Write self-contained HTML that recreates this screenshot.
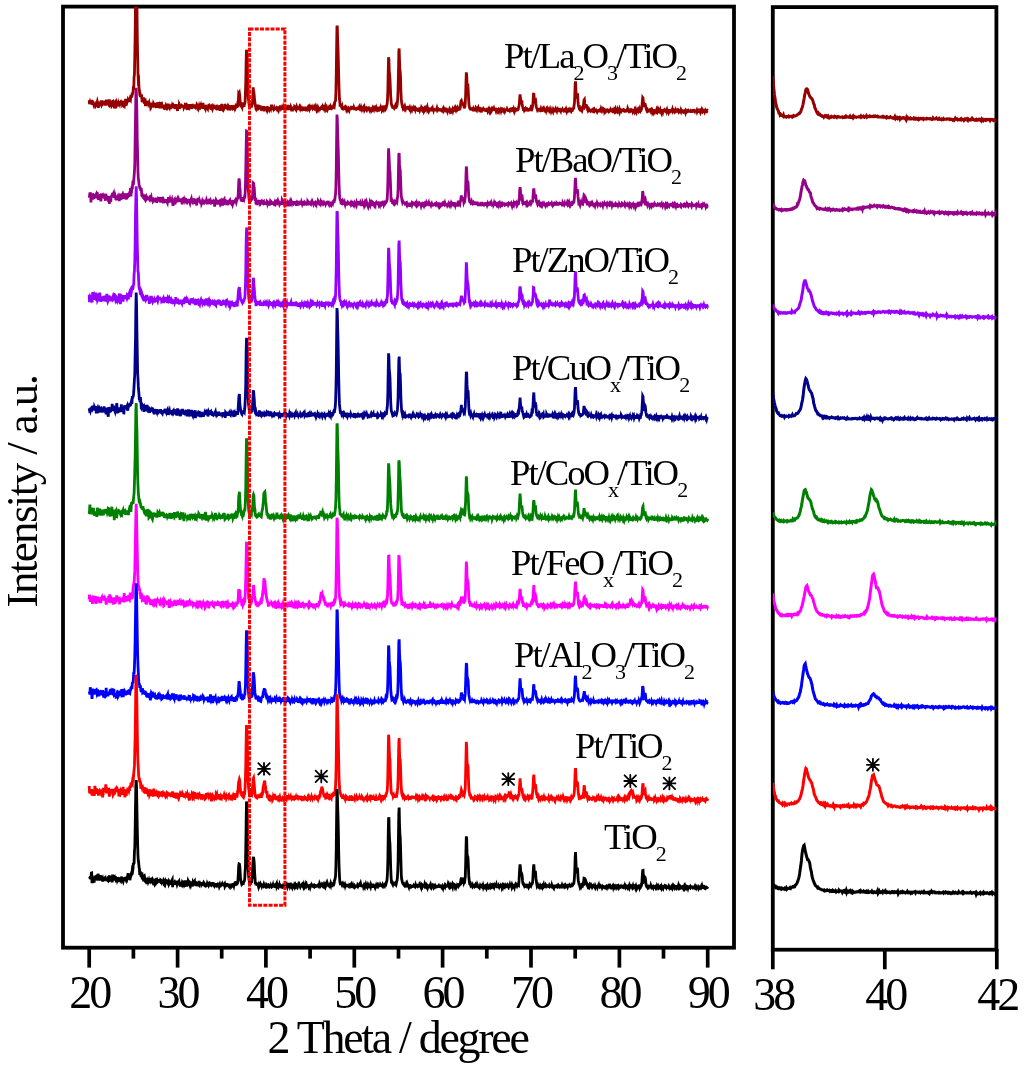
<!DOCTYPE html>
<html><head><meta charset="utf-8"><title>XRD patterns</title>
<style>
html,body{margin:0;padding:0;background:#fff;}
svg{display:block;}
</style></head>
<body>
<svg width="1024" height="1069" viewBox="0 0 1024 1069" font-family="'Liberation Serif', 'Times New Roman', serif" font-size="46">
<rect width="1024" height="1069" fill="#fff"/>
<defs><clipPath id="cl"><rect x="63" y="6.6" width="671" height="941.1"/></clipPath>
<clipPath id="cr"><rect x="772.8" y="7.1" width="223.6" height="942.6"/></clipPath></defs>
<rect x="63" y="6.6" width="671" height="941.1" fill="none" stroke="#000" stroke-width="3.8"/>
<rect x="772.8" y="7.1" width="223.6" height="942.6" fill="none" stroke="#000" stroke-width="3.8"/>
<g clip-path="url(#cl)">
<path transform="translate(89.200,0) scale(0.35344,0.1)" d="M0,1001l1 40 1-13 1 14 1-22 1 2 1-13 1-10 1 31 1 17 1-38 1 13 1 13 1 12 1-10 1-10 1 31 1-17 1 18 1-6 1-8 1-32 1 17 1-14 1 13 1 9 1 42 1-48 1-1 1 5 1 21 1-37 1 18 1 6 1-41 1 40 1-10 1-4 1 13 1-4 1-7 1-15 1 35 1-26 1-18 1 50 1-32 1 0 1 12 1-40 1 22 1 33 1-18 1-7 1 7 1-14 1 15 1-41 1 21 1 34 1-4 1-1 1-2 1 13 1-7 1 2 1-36 1-2 1 44 1-11 1-16 1 55 1-29 1 4 1-39 1-5 1 32 1 6 1-15 1-24 1 27 1-3 1-10 1 13 1 4 1 19 1-42 1 13 1-14 1-4 1 12 1-22 1 32 1-30 1 34 1-5 1 18 1-25 1 34 1 2 1-39 1 2 1 3 1-44 1 56 1 0 1-12 1-13 1-31 1 24 1-17 1 7 1-1 1 8 1 9 1-27 1-12 1 8 1-33 1 20 1-15 1-7 1-27 1 9 1-12 1-59 1 39 1-134 1-23 1-189 1-201 1-306 1-20 1 0 1 0 1 0 1 318 1 207 1 178 1 76 1-7 1 84 1 12 1 42 1-1 1 33 1-26 1 22 1-25 1 46 1 33 1-21 1 4 1 5 1-37 1 44 1 17 1-17 1-33 1 65 1 0 1-21 1-20 1 21 1 13 1 0 1 10 1-37 1 21 1-8 1 24 1 2 1-16 1 12 1 25 1-7 1-42 1 30 1-8 1-4 1 14 1 2 1-24 1 7 1 12 1 1 1-26 1 21 1-15 1 25 1 18 1-42 1-1 1 12 1-1 1-5 1-7 1 1 1 45 1-54 1 58 1-49 1 2 1 37 1-55 1 11 1 51 1-10 1-20 1 18 1-12 1-12 1 27 1 21 1-35 1 16 1-4 1-13 1 8 1 9 1-7 1 6 1-13 1-25 1 26 1-3 1 14 1 6 1-17 1 3 1-17 1 21 1 4 1-4 1-29 1 39 1-26 1 6 1 8 1 15 1-19 1 6 1-7 1-2 1-1 1-17 1 18 1 27 1-22 1 25 1 20 1-49 1-16 1 32 1 12 1-47 1 7 1 12 1 4 1 5 1-4 1-2 1-9 1 3 1 17 1-22 1 19 1-22 1 25 1-7 1 3 1 13 1-42 1 1 1 13 1-13 1 32 1 22 1-35 1 6 1 4 1 13 1 2 1-9 1-36 1 19 1 11 1-30 1 31 1-2 1 18 1-49 1 11 1 21 1-16 1 14 1-1 1-3 1 3 1 3 1-28 1 19 1 2 1 8 1 1 1-27 1 5 1 26 1-4 1 12 1-9 1-14 1 13 1 3 1-12 1-9 1 23 1-16 1 10 1-28 1 37 1-19 1-37 1 60 1-19 1 3 1-13 1 19 1 7 1-37 1 13 1 4 1 23 1-24 1 20 1 5 1-32 1 25 1-29 1-2 1 11 1 4 1-18 1 25 1 13 1-1 1-20 1-5 1 13 1 14 1-10 1 1 1-7 1 15 1-21 1 1 1 11 1 4 1 3 1-18 1 14 1-30 1 9 1 36 1-10 1-14 1 20 1 0 1-26 1-1 1 11 1 33 1-21 1 1 1-25 1-24 1 30 1 14 1 9 1-4 1 10 1-6 1-25 1 21 1-36 1-1 1 8 1 16 1-1 1 4 1-6 1 10 1 5 1-3 1-22 1 6 1-4 1-10 1 49 1-10 1-26 1 13 1-3 1-25 1 19 1 5 1 7 1-6 1-12 1 36 1-35 1 1 1 4 1 15 1-8 1-5 1-37 1 42 1-30 1 22 1-28 1 4 1-41 1-71 1 5 1-8 1 23 1 57 1 27 1 19 1 6 1 1 1 7 1-48 1 47 1-9 1-5 1-13 1 25 1-32 1 0 1-13 1-95 1-101 1-221 1-108 1 14 1 88 1 135 1 117 1 126 1 22 1 34 1 26 1-1 1-2 1-15 1 30 1-14 1 18 1-20 1-10 1-28 1-67 1-78 1 39 1 14 1 34 1 41 1 25 1 27 1 18 1-8 1 6 1-1 1 18 1-7 1 13 1-45 1 16 1 17 1-4 1-22 1 19 1-17 1 30 1 5 1-6 1 9 1-29 1 10 1 16 1 12 1-23 1-19 1 52 1-41 1 14 1-17 1 22 1-17 1 14 1 8 1-32 1 9 1 3 1 14 1-8 1 3 1-13 1 15 1-11 1 20 1-23 1 10 1-18 1-18 1 35 1 2 1-4 1-1 1 8 1-12 1 16 1-13 1 8 1-4 1 0 1 7 1 1 1-7 1 7 1-13 1 2 1 10 1-4 1 11 1-14 1-1 1 18 1-21 1 4 1-6 1 12 1-5 1 16 1-34 1 26 1-12 1 15 1-22 1 9 1-1 1 7 1-7 1-24 1 14 1 7 1 7 1-1 1 5 1-2 1-36 1 16 1 13 1 20 1-26 1-3 1 5 1 1 1 19 1-23 1 8 1 34 1-44 1 28 1 1 1-7 1-26 1 20 1-2 1-19 1 3 1 19 1 6 1 5 1-18 1-12 1 11 1-2 1-9 1 32 1-20 1 0 1 0 1-10 1 9 1 9 1-9 1 15 1 11 1-29 1 1 1 4 1 14 1-3 1-7 1 4 1 18 1-21 1-7 1 0 1 10 1-3 1-12 1 40 1-28 1-5 1-5 1-5 1 15 1-5 1-2 1-7 1 19 1-7 1-14 1-3 1 14 1 0 1-5 1-3 1 8 1-9 1 10 1 0 1-6 1 3 1-8 1 22 1 0 1-2 1-12 1 13 1-13 1 5 1-8 1 14 1-10 1 8 1-18 1 16 1 3 1-18 1 13 1-4 1-4 1 19 1-12 1 2 1-12 1 11 1 2 1-9 1 8 1-19 1 19 1-6 1-13 1 13 1 14 1-8 1-9 1 12 1 10 1-8 1-12 1 16 1-14 1-8 1 6 1-3 1-7 1 18 1 0 1 1 1-17 1 3 1 14 1-15 1-1 1-10 1 12 1 2 1-27 1-30 1-6 1-6 1-79 1-189 1-247 1-234 1 11 1 136 1 85 1 128 1 153 1 127 1 91 1 27 1 51 1-20 1 4 1 8 1 11 1-7 1 32 1-27 1 19 1 5 1-1 1-5 1 10 1-24 1-3 1 12 1-24 1 28 1 14 1-8 1 3 1-8 1-3 1 19 1-5 1 6 1-26 1 10 1 2 1-6 1 6 1-1 1-6 1-1 1-6 1-12 1 16 1 1 1 15 1-16 1 10 1-1 1 1 1 1 1-2 1 0 1 5 1-3 1-20 1 17 1 1 1-2 1-7 1 4 1 4 1-13 1 8 1 5 1-16 1 28 1-19 1 10 1-13 1 34 1-10 1-18 1-8 1 8 1-8 1 23 1-7 1 1 1-3 1-4 1 14 1 5 1-10 1 2 1-4 1-4 1-8 1-12 1 26 1 7 1-25 1 21 1-1 1-17 1 19 1 7 1-8 1-8 1-8 1 9 1-7 1 8 1-21 1 14 1 4 1-9 1 5 1 7 1-11 1 12 1 4 1-26 1 14 1 9 1 24 1-25 1-4 1 6 1 3 1-3 1-10 1 20 1-20 1-9 1-17 1 45 1-5 1-8 1-7 1 9 1-15 1-3 1 17 1-5 1-13 1 16 1-6 1-17 1-10 1-19 1-39 1-97 1-184 1-144 1 28 1 113 1 29 1 50 1 79 1 91 1 39 1 41 1 7 1 20 1-12 1 29 1-13 1-19 1 24 1 5 1-6 1-5 1-11 1 13 1 12 1-18 1-7 1-7 1-35 1-38 1-98 1-155 1-212 1-31 1 123 1 89 1 22 1 58 1 147 1 65 1 37 1 20 1 19 1-1 1 15 1-7 1 8 1 7 1-11 1-10 1 14 1 8 1-14 1 15 1-17 1 23 1-22 1-1 1 0 1 12 1 2 1 1 1 6 1-10 1 15 1-17 1 15 1-12 1 3 1 8 1-13 1 6 1 5 1 2 1-10 1 24 1-30 1 5 1-1 1 13 1-11 1 6 1 6 1 10 1-26 1 29 1-32 1 9 1 31 1-36 1 11 1 10 1-11 1-16 1 16 1 3 1-17 1 7 1 9 1-5 1 12 1-4 1 10 1-13 1-6 1 13 1-7 1-10 1 7 1-7 1-16 1 12 1-9 1 23 1-7 1 10 1-18 1 11 1 12 1-8 1-5 1-1 1 0 1 6 1-5 1 8 1-1 1-8 1 26 1-27 1 11 1-16 1 13 1 11 1-22 1 16 1 0 1 0 1 1 1-4 1-13 1 14 1-7 1-2 1 7 1-1 1-12 1 18 1-1 1-1 1 0 1 3 1-16 1 13 1 0 1 5 1-12 1-6 1 11 1-13 1 7 1-5 1 4 1 9 1-8 1-1 1 0 1 2 1 12 1 8 1-24 1 18 1-16 1 13 1-4 1 7 1-15 1 6 1 11 1 7 1-6 1-7 1-18 1 16 1-8 1 13 1-14 1 0 1 3 1-6 1-7 1 16 1-3 1 7 1-14 1 9 1-7 1 0 1-8 1 13 1-4 1-5 1 4 1 3 1 1 1-2 1-20 1-35 1-25 1-5 1 12 1 18 1-2 1 11 1 2 1 3 1 5 1 27 1-9 1-7 1-41 1-68 1-127 1-107 1 30 1 78 1 56 1 3 1-7 1 65 1 73 1 37 1 14 1 17 1-15 1 30 1-12 1-5 1 3 1 2 1-3 1 5 1-5 1 20 1-17 1 7 1-3 1-2 1 7 1 1 1-17 1 7 1 6 1-18 1-2 1 31 1-19 1-10 1 12 1 1 1 10 1-3 1-6 1 8 1-6 1-3 1 7 1 6 1-7 1 0 1-2 1-8 1 6 1-2 1 6 1 2 1-4 1 2 1-2 1 20 1-31 1 14 1 0 1-4 1 15 1-7 1-4 1-9 1 11 1 12 1-9 1 9 1-13 1-4 1-6 1 14 1-6 1-9 1 6 1-1 1-1 1-9 1 12 1 0 1-3 1 2 1 2 1 11 1-11 1 5 1-4 1-4 1-14 1 25 1-6 1 10 1-14 1-14 1 22 1 1 1-7 1 11 1-12 1 5 1 5 1-4 1-12 1 2 1 10 1-4 1 12 1-4 1-20 1 22 1-7 1-1 1-3 1 0 1-8 1 9 1 0 1 5 1-1 1 2 1 0 1-5 1 6 1-8 1 2 1-5 1-6 1 2 1-2 1 14 1-2 1-13 1 23 1-16 1 11 1-16 1 21 1-8 1 0 1-14 1 2 1 11 1 0 1-8 1 0 1 1 1-6 1-19 1-11 1-23 1-53 1-40 1 31 1 26 1 25 1-2 1-20 1 36 1 23 1 16 1 15 1-1 1 8 1-10 1-3 1 7 1-7 1 8 1 16 1-16 1 5 1 1 1-8 1 4 1 4 1 1 1-1 1-6 1-3 1-1 1-6 1 25 1-22 1 7 1 2 1-8 1-20 1-11 1-50 1-70 1-8 1 46 1 31 1 22 1-20 1-4 1 35 1 25 1 17 1 4 1 12 1-6 1 2 1-11 1 23 1-26 1 20 1-3 1-2 1 5 1-11 1 12 1 4 1 0 1-8 1 1 1-8 1 9 1 0 1-10 1 9 1 10 1-2 1 4 1-18 1 13 1-13 1 6 1-9 1 9 1 4 1 2 1 1 1-9 1 11 1-7 1-11 1 22 1-12 1 13 1-10 1 0 1 4 1-3 1 9 1-16 1 7 1-5 1 5 1 19 1-14 1-8 1-10 1 9 1 2 1 8 1-14 1-5 1 10 1 0 1 14 1-19 1-12 1 16 1-4 1 5 1 8 1-17 1 22 1-10 1-5 1-7 1 7 1 4 1 5 1 4 1-3 1-6 1 6 1 2 1-9 1 14 1-14 1 11 1-12 1 3 1-18 1 27 1-2 1-14 1 3 1 4 1-7 1 8 1 5 1 4 1-14 1-4 1 7 1 1 1-12 1-4 1-2 1-3 1-32 1-23 1-83 1-111 1-19 1 77 1 70 1 27 1-29 1-9 1-1 1 73 1 25 1 20 1 9 1 16 1 4 1-9 1 12 1 10 1-30 1 12 1-7 1 12 1-12 1-9 1-5 1-38 1-32 1-5 1 42 1 30 1-5 1-5 1-14 1 15 1 5 1 12 1 19 1-1 1 14 1-5 1-9 1 7 1 3 1 4 1-6 1-11 1 18 1-3 1-2 1 7 1 2 1-20 1-2 1 7 1 7 1-7 1 10 1-6 1 1 1 0 1-2 1 8 1 1 1 8 1-8 1-2 1 0 1-2 1 1 1-2 1 19 1-18 1 3 1-8 1-12 1 10 1 7 1-13 1 22 1-13 1 7 1 12 1-31 1 3 1 21 1-8 1 3 1-3 1 10 1-5 1-4 1-3 1-3 1 4 1-13 1 17 1-2 1 10 1-4 1-15 1 16 1-12 1 8 1 1 1-4 1 4 1 3 1-13 1 4 1 6 1 3 1-11 1 8 1-11 1-8 1 19 1 7 1-5 1-2 1 2 1 4 1-18 1 9 1-6 1 6 1 1 1 9 1-22 1 9 1-9 1 3 1 1 1 10 1-6 1-16 1 29 1-15 1-3 1 5 1 4 1-7 1 2 1 2 1 6 1 2 1-1 1-6 1 3 1-5 1 11 1-27 1 8 1 1 1 13 1-4 1 2 1-2 1 9 1-3 1-26 1 29 1-15 1 2 1 9 1-14 1 19 1-7 1-4 1 1 1 9 1-14 1 8 1-9 1 16 1-15 1 15 1-10 1-5 1 22 1-16 1 6 1-8 1-10 1 16 1 3 1-24 1 5 1-3 1 5 1-10 1-26 1-46 1-38 1 5 1 42 1 27 1 20 1-22 1-7 1 1 1 18 1 11 1 16 1 13 1 8 1-6 1 12 1-3 1-8 1-2 1-2 1 7 1-4 1 1 1-6 1-3 1 16 1-6 1-4 1 16 1-11 1 2 1 12 1-12 1-1 1 5 1 8 1-10 1-1 1 5 1-2 1-10 1 14 1-5 1-10 1 18 1-5 1-12 1 8 1 0 1-5 1-7 1 19 1-3 1-2 1 12 1-13 1-1 1-2 1 12 1-14 1-2 1 6 1-1 1-7 1 6 1 5 1-4 1 3 1-4 1-8 1 17 1-8 1-6 1 3 1 2 1 15 1-8 1 2 1-24 1 18 1 1 1 2 1-1 1-7 1 1 1-11 1 15 1-7 1 4 1-5 1 8 1 6 1-9 1 1 1 12 1-16 1 8 1-3 1 4 1 0 1-9 1 4 1 6 1-12 1 3 1 4 1 2 1 5 1-3 1-11 1 11 1-10 1 1 1 4 1 0 1 10 1 4 1-4 1 0 1-8 1 3 1-1 1 11 1-14 1 6 1 0 1-5 1 8 1-3 1-2 1-4 1-5 1 4 1 5 1 0 1 1 1-4 1 11 1-19 1 13 1 0 1-9 1-2 1 1 1-1 1 5 1-3 1-1 1 6 1-13 1 15 1-3 1 0 1 2 1-8 1 13 1-8 1-4 1-2 1 22 1-11 1-5 1 4 1 1 1 8 1-14 1 4 1-9 1 17 1-12 1 6 1-8 1 9 1-2 1-18 1 16 1 8 1-10 1 1 1-11 1 4 1 15 1 0 1-13 1-2 1 3" fill="none" stroke="#960000" stroke-width="2.8" stroke-linejoin="miter" vector-effect="non-scaling-stroke"/>
<path transform="translate(89.200,0) scale(0.35344,0.1)" d="M0,1978l1-22 1-30 1 11 1-11 1 99 1-86 1 31 1 26 1-29 1-31 1 9 1 9 1-13 1 36 1-2 1-20 1-3 1 27 1-31 1-7 1 14 1-34 1 11 1 54 1-25 1 37 1-13 1-40 1 35 1 12 1-21 1-30 1 74 1-40 1-42 1 22 1-3 1-14 1 41 1-15 1 9 1-33 1 12 1 37 1-26 1 45 1-70 1 27 1 18 1 19 1-31 1 1 1 22 1-35 1 59 1-36 1 57 1-37 1-42 1 33 1 25 1-54 1 12 1-28 1 16 1-34 1 28 1-21 1-7 1 33 1 15 1-16 1-8 1 15 1 13 1 19 1-43 1 32 1-1 1-20 1-7 1 15 1-15 1 14 1 36 1-34 1-9 1-15 1 4 1 40 1-27 1-5 1-19 1-5 1 30 1 16 1-44 1 4 1 40 1-49 1 15 1-21 1 61 1-17 1-29 1 17 1 1 1-22 1-1 1 22 1-5 1-1 1-2 1-21 1-20 1 15 1-51 1 84 1-57 1 2 1-46 1 28 1-53 1-31 1 44 1-46 1-35 1-56 1-70 1-243 1-225 1-217 1-80 1 113 1 150 1 263 1 143 1 169 1 70 1 15 1 48 1 10 1 17 1 0 1 6 1 24 1-25 1 25 1 57 1-30 1 40 1-18 1 19 1 4 1-34 1 27 1 9 1-9 1-1 1-5 1 31 1-5 1-36 1 40 1-15 1-11 1 18 1 4 1 0 1-3 1 6 1-11 1-29 1 19 1-7 1 28 1 5 1 13 1-19 1-19 1 34 1-5 1-20 1 37 1-15 1-1 1-14 1 27 1-42 1 23 1 17 1 1 1-6 1-13 1-11 1 4 1 13 1-16 1-4 1-13 1 24 1 31 1-52 1 43 1-41 1 30 1-18 1-19 1 27 1 37 1-32 1 6 1 8 1 0 1-12 1-12 1 35 1-15 1-19 1 24 1 8 1-30 1 37 1-59 1 12 1 42 1-25 1-10 1 17 1-2 1 2 1 14 1-16 1-10 1 19 1 13 1 30 1-42 1-15 1 0 1-5 1 35 1 12 1-45 1-19 1 45 1-14 1-5 1-9 1 15 1-26 1 29 1-23 1 8 1 20 1-32 1 10 1 0 1 23 1-29 1 27 1-11 1 36 1-20 1-24 1 4 1-7 1 30 1-46 1 19 1 11 1-9 1 6 1-4 1 10 1 3 1 7 1-7 1-18 1 15 1-23 1 26 1-26 1 30 1 10 1-18 1 1 1-14 1-10 1 19 1 3 1 10 1 5 1-10 1 11 1 10 1-47 1 31 1-22 1 1 1 12 1 10 1-11 1 44 1-63 1 32 1-20 1-24 1 38 1-21 1 22 1-18 1 10 1 3 1 15 1 10 1-26 1 24 1-8 1-14 1 12 1 0 1 2 1-15 1 4 1 6 1-6 1-21 1 25 1 13 1-18 1-16 1 10 1 32 1-44 1 11 1 16 1 12 1-28 1-11 1 0 1 29 1 2 1-15 1 11 1-21 1 33 1-15 1-5 1 6 1-2 1-7 1 8 1-3 1 46 1-44 1 21 1-25 1-18 1 6 1 7 1 3 1 4 1 25 1-31 1-2 1 0 1-2 1 8 1 13 1-10 1-7 1 16 1-9 1 6 1-11 1 10 1 30 1-43 1 36 1-51 1-5 1 25 1 24 1-16 1 0 1 6 1-5 1-15 1 2 1 13 1 13 1 11 1-27 1 12 1-38 1 10 1-5 1 18 1 5 1-20 1 30 1-21 1 1 1 12 1 16 1-10 1-13 1 4 1-2 1-2 1-11 1-6 1 26 1-20 1 11 1-14 1-6 1-10 1-8 1-8 1-53 1-102 1-35 1 22 1 62 1 31 1 76 1 15 1-1 1 7 1 20 1-45 1 22 1 14 1 9 1-36 1 9 1-16 1 11 1-41 1-83 1-164 1-210 1-175 1 2 1 146 1 148 1 132 1 162 1 30 1 53 1 18 1 2 1 9 1-2 1-4 1-14 1-4 1 13 1-25 1-13 1-59 1-76 1 3 1 24 1 22 1 67 1 43 1 19 1-31 1 66 1-30 1 38 1-32 1-20 1 13 1 2 1 20 1-16 1-2 1 16 1-7 1 6 1-13 1-2 1-4 1 17 1 15 1-27 1-2 1 8 1 7 1-6 1 21 1-29 1 31 1-14 1-3 1 18 1-11 1-11 1 11 1-23 1 21 1-10 1 5 1 5 1-1 1 19 1-13 1-5 1-25 1 4 1 24 1-13 1-11 1 22 1 0 1-21 1 21 1 4 1-9 1 0 1 5 1-14 1 8 1 6 1-8 1 1 1-14 1 3 1-8 1 18 1-4 1-6 1 7 1 1 1 17 1-6 1-22 1 15 1 18 1-19 1 17 1-44 1 7 1 31 1-10 1-4 1 5 1 10 1-11 1-14 1 31 1-14 1 1 1-4 1-4 1 10 1 28 1-22 1-17 1 6 1-5 1-3 1 9 1-11 1 12 1 8 1-4 1-20 1 10 1-18 1 20 1 6 1 3 1-14 1 0 1 6 1 15 1-15 1-3 1-2 1 15 1 17 1-26 1-8 1 6 1 13 1 3 1-1 1-34 1 26 1 12 1-23 1 16 1-13 1 3 1 15 1-20 1 10 1-15 1 14 1 7 1 1 1-31 1 11 1 29 1-28 1 4 1 0 1 10 1 2 1-20 1 17 1 13 1-31 1 7 1 20 1-15 1 7 1-2 1-6 1 4 1 4 1 4 1-11 1 10 1-27 1 32 1-25 1 8 1 8 1-19 1 29 1-9 1-7 1-5 1 9 1-11 1 2 1 11 1-16 1-1 1 7 1 14 1-30 1 6 1 15 1 6 1-4 1 3 1 5 1-17 1 11 1-7 1-8 1 5 1 5 1 6 1-9 1 4 1-7 1 7 1-2 1 4 1-2 1 11 1-8 1-4 1-3 1-4 1 4 1-17 1 15 1-2 1 12 1 9 1-10 1 4 1 6 1-5 1 5 1-29 1 21 1-6 1-4 1 7 1-17 1-5 1 7 1-1 1-15 1-7 1-34 1-21 1-70 1-173 1-295 1-257 1 45 1 137 1 107 1 109 1 164 1 140 1 93 1 39 1 19 1 1 1 20 1-3 1-4 1 16 1-3 1-9 1 15 1-3 1-13 1-3 1 33 1-15 1 12 1-15 1 3 1 3 1 7 1 3 1 0 1-7 1-14 1 4 1 16 1-13 1 1 1 8 1 3 1-7 1-7 1 13 1-8 1 6 1-10 1 28 1-25 1 4 1 9 1-9 1-7 1 11 1-17 1 23 1-2 1-6 1 10 1-21 1 9 1-7 1 4 1-4 1-15 1 16 1 23 1-13 1-1 1-11 1 11 1 5 1-3 1 0 1 1 1 19 1-33 1 8 1 6 1-5 1 15 1-12 1-11 1 11 1-10 1 11 1 1 1-19 1 10 1 8 1 20 1 8 1-15 1-28 1 11 1 2 1 8 1-28 1 7 1 23 1-13 1 15 1-1 1-33 1 3 1 9 1 3 1 5 1 9 1-14 1 17 1 6 1-33 1 9 1-6 1 8 1-3 1 3 1 4 1-8 1-1 1 12 1-13 1 15 1 8 1-20 1-1 1 7 1 6 1-11 1-4 1 11 1 16 1-20 1-5 1-3 1 21 1-7 1-19 1 1 1 12 1-5 1-12 1-1 1-11 1-11 1-61 1-107 1-184 1-159 1 58 1 77 1 79 1 22 1 78 1 98 1 96 1-4 1 13 1 3 1 26 1 2 1-1 1 5 1-27 1 27 1-15 1 6 1 10 1-4 1-10 1-8 1-12 1 8 1-33 1-13 1-75 1-183 1-163 1-13 1 119 1 40 1 7 1 85 1 105 1 76 1 16 1 29 1 12 1-11 1 8 1 23 1-14 1-1 1 1 1 9 1 6 1-2 1 1 1-5 1 9 1-6 1 13 1-7 1-4 1 1 1 2 1 0 1 1 1 25 1-27 1 1 1 1 1 2 1-8 1 11 1-12 1-10 1 2 1 4 1 2 1 19 1-29 1 11 1-4 1 12 1-3 1 9 1-11 1 17 1-5 1-21 1 13 1-7 1 6 1-5 1-4 1 7 1 1 1-1 1 6 1 13 1-12 1-6 1-4 1 5 1 6 1-10 1 2 1-3 1 15 1-10 1 6 1-6 1-2 1-9 1 14 1-4 1-7 1 6 1 1 1 0 1-8 1 28 1-22 1-3 1 9 1 0 1-1 1 9 1-10 1-7 1 10 1 5 1 3 1-1 1-17 1 12 1-2 1-5 1 3 1 3 1 4 1-10 1 3 1-8 1 6 1 0 1 7 1 6 1-30 1 36 1-28 1 19 1-10 1-15 1 35 1-4 1-22 1 14 1-4 1-6 1 8 1-3 1-7 1 9 1-1 1-4 1-10 1 15 1-4 1 7 1 0 1-3 1 1 1 9 1-7 1-7 1-1 1-8 1 7 1 10 1-9 1-5 1 3 1 10 1-14 1 10 1 2 1 14 1-22 1 4 1-14 1 19 1-12 1-13 1 17 1 10 1-20 1 16 1 0 1-2 1-1 1-4 1 27 1-27 1 5 1 2 1-24 1 2 1 7 1 7 1-24 1-7 1-32 1-21 1 18 1 6 1 1 1 15 1-2 1 6 1 26 1-9 1 1 1-23 1-21 1-76 1-136 1-95 1 30 1 91 1 48 1-24 1 18 1 82 1 57 1 20 1 25 1 7 1 2 1 5 1 7 1-4 1-11 1 12 1 1 1 5 1-7 1-5 1 10 1-2 1 2 1-6 1-13 1 21 1-1 1 13 1-25 1 11 1 1 1-3 1 6 1 21 1-12 1-6 1 2 1-3 1 5 1-4 1 4 1 0 1-13 1 0 1 11 1-4 1 6 1 1 1 3 1-9 1 0 1 3 1 4 1-1 1-23 1 26 1-11 1-2 1 13 1-10 1 12 1-3 1-31 1 28 1-2 1-7 1-4 1 23 1-14 1 3 1-14 1 10 1 1 1 2 1 15 1-26 1 18 1-7 1-14 1 9 1-2 1 6 1 16 1-18 1 6 1-24 1 24 1 5 1-9 1-1 1 9 1-17 1 3 1-6 1 12 1-1 1 11 1-7 1-5 1-5 1 10 1-5 1 7 1-6 1-2 1-2 1 5 1 0 1-11 1 19 1-2 1-9 1 0 1 3 1-6 1-1 1 3 1-1 1 13 1-5 1-13 1 3 1-1 1 1 1 5 1 4 1-8 1 10 1 10 1-18 1-3 1-2 1 10 1-10 1 10 1-13 1-3 1 4 1 6 1 1 1-7 1 12 1-13 1-1 1 14 1-7 1-12 1 3 1-28 1-20 1-72 1-35 1 26 1 48 1 30 1-5 1-26 1 18 1 54 1-2 1 19 1-4 1 3 1-5 1-1 1 10 1 0 1 1 1-7 1 13 1-7 1 7 1-12 1 8 1 6 1-5 1 2 1-7 1-7 1 8 1 1 1-9 1 9 1-7 1-13 1-5 1 13 1-22 1-54 1-49 1-16 1 33 1 46 1 18 1-23 1-14 1 28 1 35 1 13 1 7 1 6 1 12 1-6 1-13 1 6 1-7 1 11 1 8 1-10 1-2 1 6 1 10 1-9 1-5 1 11 1-11 1 2 1 9 1 2 1-10 1 8 1-2 1 7 1-19 1 13 1-3 1 11 1-18 1 11 1-8 1-1 1-4 1 14 1-1 1-2 1-14 1 20 1-11 1 1 1-1 1-6 1 13 1 5 1-20 1 12 1-4 1 5 1-6 1 4 1 1 1-9 1 3 1-2 1 0 1 19 1-22 1 4 1 6 1 2 1-7 1-4 1 1 1 4 1-3 1-5 1 2 1 5 1 1 1 0 1 3 1-4 1 26 1-31 1 8 1 0 1-4 1 8 1-9 1 17 1-16 1 5 1-1 1-3 1 1 1 5 1-15 1 9 1-10 1 7 1 7 1-13 1 13 1-11 1 3 1 10 1-13 1-2 1 31 1-32 1 16 1-33 1 11 1 6 1-4 1-18 1-42 1-62 1-96 1-26 1 68 1 67 1 19 1-23 1-16 1 17 1 56 1 31 1 27 1-6 1 14 1 4 1 12 1-13 1-10 1 21 1-20 1 8 1 5 1 2 1-28 1-6 1-31 1-26 1 4 1 18 1 31 1-4 1 8 1-10 1 10 1 0 1 34 1 0 1-3 1 2 1-14 1 2 1 13 1-5 1 13 1-5 1 1 1-8 1 9 1 0 1 1 1-15 1 7 1 8 1-8 1 1 1 6 1-2 1 10 1-15 1-3 1 6 1 0 1 3 1-15 1 9 1 11 1-8 1-6 1-1 1 1 1 4 1 9 1 4 1-7 1 14 1-14 1 19 1-21 1 1 1 10 1-17 1 5 1 7 1-3 1-12 1 8 1-2 1 1 1 3 1-6 1 8 1-25 1 23 1-8 1 9 1 14 1-16 1 2 1-8 1 11 1-3 1 2 1-1 1-13 1 5 1 14 1-12 1 8 1-4 1-1 1 5 1 8 1-1 1-13 1 2 1 4 1-10 1 6 1-2 1 6 1-2 1-1 1 8 1-9 1 2 1 14 1-21 1 7 1-4 1 0 1-1 1 11 1-6 1 2 1-17 1 3 1 10 1 4 1-1 1-2 1 3 1 6 1-19 1 6 1 7 1 4 1 0 1-7 1-6 1 8 1-5 1 2 1-2 1-3 1 15 1-12 1 7 1 6 1-6 1 8 1-16 1 3 1 8 1-7 1-5 1 20 1-14 1-13 1 22 1-8 1 4 1-3 1 19 1-10 1-20 1 13 1-7 1-3 1-5 1 5 1 11 1-3 1 1 1-23 1 0 1 16 1-2 1-8 1 5 1-16 1-17 1-33 1-63 1 26 1 32 1 43 1 7 1-18 1-8 1-5 1 18 1 15 1 21 1 2 1 12 1-17 1 13 1-9 1 9 1 0 1-7 1-1 1 14 1-12 1 24 1-27 1 9 1 9 1-12 1 3 1-15 1 26 1-23 1-1 1 17 1-3 1-12 1 7 1 3 1-2 1 0 1 5 1 3 1-2 1-8 1-6 1 3 1 4 1 3 1-3 1-4 1 6 1 6 1-5 1-5 1-6 1 18 1 10 1-25 1 16 1-7 1-7 1 5 1 5 1 11 1-21 1 17 1-11 1 9 1-8 1 7 1-10 1 8 1-12 1 5 1 4 1 5 1-22 1 15 1 1 1-3 1-6 1-1 1 4 1 1 1 11 1 3 1-12 1 8 1-5 1-7 1 10 1-8 1 17 1-17 1 2 1 12 1-13 1 4 1-3 1 16 1 0 1-13 1-12 1 18 1-2 1 0 1 3 1 0 1 6 1 3 1-19 1 5 1 0 1-4 1 0 1 18 1-20 1-3 1 12 1-3 1-5 1 9 1 5 1-4 1 0 1-10 1 16 1-15 1 16 1-13 1 7 1-8 1-5 1-3 1 1 1 9 1-1 1-2 1 0 1 8 1-14 1 7 1-5 1 6 1 0 1 4 1-1 1-2 1 0 1-3 1-3 1 11 1-24 1 21 1-10 1 5 1 22 1-22 1-7 1 25 1-13 1 5 1-5 1-2 1 21 1-21 1-3 1 9 1-12 1-11 1 19 1-8 1 10 1 0 1-6 1-7 1 8 1-1 1 6 1-14 1 19 1-9 1-3 1 6 1 8 1-4" fill="none" stroke="#960088" stroke-width="2.8" stroke-linejoin="miter" vector-effect="non-scaling-stroke"/>
<path transform="translate(89.200,0) scale(0.35344,0.1)" d="M0,2947l1 74 1-26 1-21 1 9 1-25 1 20 1 35 1 11 1-46 1-57 1 25 1-4 1 41 1-16 1 30 1-18 1 5 1 4 1-62 1 55 1-20 1 15 1-31 1 56 1-7 1-59 1 55 1-50 1 49 1-62 1 39 1 51 1-20 1-3 1 5 1 1 1-6 1-16 1-11 1 22 1-18 1-2 1 3 1 43 1-23 1-33 1 11 1 10 1-12 1-29 1 50 1-2 1 22 1-9 1-17 1-30 1 37 1-2 1-2 1-3 1 14 1 15 1-16 1-1 1-10 1-4 1-10 1 20 1-5 1-54 1 46 1-36 1 60 1-20 1 19 1-8 1 14 1 5 1-27 1 6 1-14 1 14 1 34 1-46 1-43 1 14 1 39 1 52 1-29 1-48 1 12 1-10 1 6 1 9 1-8 1 44 1-65 1 15 1 24 1-31 1 18 1-26 1 34 1-12 1-6 1 10 1-18 1 7 1-14 1 25 1 1 1-41 1-4 1-9 1 26 1 3 1 16 1-35 1-8 1-30 1-28 1-3 1 33 1-24 1-21 1-11 1-99 1-40 1-84 1-181 1-280 1-182 1-115 1 120 1 224 1 245 1 131 1 130 1 18 1 72 1 68 1 20 1 4 1 24 1-5 1 12 1-14 1 9 1 32 1 11 1-12 1 7 1 9 1 34 1-21 1 34 1-22 1-7 1 12 1-30 1 26 1-7 1-36 1 30 1-2 1 12 1 2 1-5 1 1 1 52 1-44 1 0 1 21 1-58 1 28 1 11 1 15 1 3 1-11 1 15 1-6 1 12 1-44 1 11 1 32 1-31 1 6 1 2 1 1 1 1 1-10 1-8 1 10 1 11 1-16 1-12 1 6 1 18 1-20 1-1 1 18 1-18 1 20 1-23 1 33 1-4 1-6 1-10 1-7 1 33 1 0 1-27 1 27 1-49 1 53 1-54 1 51 1-29 1 0 1 14 1 27 1-20 1-22 1 9 1-15 1-6 1 11 1 38 1-37 1 36 1-12 1 9 1 13 1-30 1 7 1-14 1 41 1-21 1 12 1-24 1 0 1 15 1-12 1 27 1-65 1 50 1 1 1-21 1 0 1 0 1-1 1 14 1-1 1 31 1-14 1-5 1-7 1-21 1 23 1-2 1 4 1 8 1-33 1 16 1 16 1-16 1-6 1 33 1-20 1-4 1-15 1-31 1 29 1-2 1 32 1-22 1-18 1 6 1 33 1-24 1 15 1-19 1 33 1 2 1-21 1-3 1 9 1-36 1 16 1-1 1 22 1 0 1-8 1-7 1 13 1-2 1 0 1-5 1 20 1 19 1-18 1-16 1 26 1-52 1 23 1-22 1 20 1-6 1 9 1-18 1 62 1-32 1 11 1-17 1-13 1-8 1 15 1-1 1-7 1-1 1 23 1-9 1 7 1 5 1 4 1-25 1-3 1 16 1-7 1-25 1 33 1-41 1 44 1-4 1 9 1 7 1-10 1-21 1-9 1 12 1 11 1 15 1-9 1-10 1 6 1 8 1 1 1-17 1-4 1 9 1-4 1-11 1 18 1-5 1 16 1 10 1 3 1 4 1-49 1 18 1 10 1-5 1 3 1 0 1 14 1-38 1-9 1 50 1-40 1 14 1 8 1 5 1 24 1-27 1 22 1-26 1-5 1 26 1-31 1-1 1 15 1 2 1-2 1 0 1 5 1 8 1-18 1-23 1-2 1 22 1 15 1 1 1 0 1-3 1 13 1-5 1-38 1 35 1 22 1-9 1-18 1-5 1-3 1 33 1-33 1 2 1 5 1-1 1-13 1 49 1-19 1-1 1-23 1 40 1-30 1-20 1 15 1-26 1 57 1-48 1-45 1-44 1-34 1-9 1-12 1 41 1 31 1 45 1 9 1 15 1-17 1 25 1 6 1-14 1 24 1-19 1-4 1-7 1-25 1 14 1-55 1-80 1-132 1-289 1-138 1-26 1 149 1 154 1 184 1 112 1 90 1 28 1 29 1-31 1 28 1-23 1 13 1 16 1-17 1-1 1-26 1-44 1-58 1-75 1-25 1 67 1 43 1 54 1 30 1 52 1-25 1 63 1-30 1 3 1-11 1-1 1 13 1-1 1-10 1-10 1 37 1-30 1-3 1 28 1 0 1-17 1 4 1 2 1 19 1-18 1 20 1-11 1-2 1-13 1 5 1-3 1 2 1 20 1-25 1 6 1 7 1-3 1-11 1 12 1 4 1 17 1-31 1 17 1-10 1-14 1 7 1 4 1 4 1-7 1 3 1 23 1-15 1 2 1 8 1-24 1-4 1 22 1 2 1-15 1 8 1-1 1 13 1-7 1-33 1 43 1-14 1-17 1 6 1-8 1 13 1-4 1 26 1-15 1 21 1-47 1 12 1 2 1 16 1-5 1 28 1-52 1 23 1 3 1 9 1-23 1 8 1 2 1 5 1 10 1-24 1 0 1 5 1 3 1-10 1 20 1-10 1 6 1 13 1-30 1 23 1-10 1 1 1-20 1 25 1-15 1-10 1 21 1-2 1 1 1 16 1-20 1-4 1 2 1 1 1 11 1-30 1 28 1 3 1-1 1-18 1 24 1-23 1 3 1 15 1 7 1-1 1-13 1 24 1-24 1-3 1 7 1-9 1-13 1 34 1-6 1-10 1 20 1-18 1-2 1 6 1-27 1 24 1-8 1 11 1-4 1-4 1 12 1 3 1-24 1 3 1 28 1-17 1 7 1-15 1 11 1-7 1-3 1 0 1-15 1 35 1-6 1-25 1 8 1-8 1 11 1-7 1 13 1-2 1-19 1 4 1 26 1-29 1 29 1-13 1-1 1-6 1 0 1 0 1 17 1-5 1-14 1 9 1 19 1-20 1-2 1-5 1 14 1-12 1 3 1 1 1 0 1-5 1 15 1-29 1 49 1-32 1 0 1-15 1 35 1-21 1 13 1 9 1-18 1-5 1 10 1-26 1 26 1-28 1 35 1-9 1-1 1 6 1-10 1 22 1-20 1 5 1-1 1-6 1-2 1 7 1-24 1 13 1 2 1-12 1 11 1-17 1 12 1-23 1 8 1-9 1-16 1-33 1-115 1-162 1-294 1-272 1 10 1 164 1 83 1 164 1 179 1 141 1 93 1 38 1 20 1 7 1 4 1 20 1-3 1 14 1-12 1 2 1-5 1 13 1-8 1-8 1 17 1-4 1-2 1-13 1-4 1 20 1 5 1 9 1-23 1 16 1 11 1-21 1-5 1 14 1-7 1 13 1 0 1-27 1 10 1 12 1-6 1-3 1 3 1 6 1 7 1-26 1 18 1-13 1 18 1-15 1 4 1 5 1-14 1 19 1-5 1 11 1-10 1-2 1 12 1-14 1-26 1 40 1-10 1 15 1-19 1-11 1 11 1 0 1 1 1-24 1 36 1 2 1-16 1 10 1-6 1 6 1 4 1-4 1-4 1-3 1 9 1-16 1 3 1-9 1 17 1-1 1 0 1 0 1 2 1-10 1 15 1-5 1-18 1 33 1-22 1-13 1-6 1 27 1-10 1-13 1 2 1 20 1-22 1 10 1 1 1 9 1-3 1-9 1 6 1 7 1-9 1 10 1-26 1 7 1 7 1 4 1 6 1-7 1-1 1 26 1-29 1 17 1-13 1-1 1-11 1 12 1 2 1-9 1 8 1 8 1-10 1 7 1 2 1-24 1 10 1 2 1-25 1 22 1-22 1 3 1 1 1-35 1-36 1-131 1-175 1-162 1 30 1 110 1 47 1 34 1 91 1 121 1 44 1 56 1 1 1-1 1 29 1-22 1 12 1 13 1-19 1 15 1 9 1-26 1 9 1 1 1-20 1 5 1-9 1-8 1-30 1-40 1-103 1-183 1-199 1-39 1 139 1 63 1 14 1 95 1 132 1 67 1 72 1 14 1 10 1 19 1 4 1-9 1 14 1 1 1-5 1 7 1 4 1 6 1 3 1-20 1 2 1-5 1 19 1-15 1 17 1-7 1-3 1 14 1-12 1-6 1 5 1 4 1-5 1 5 1 1 1 18 1-23 1-6 1 7 1 6 1-21 1 15 1 17 1-19 1 5 1-11 1 31 1-22 1-12 1 17 1-4 1 11 1-10 1 14 1-9 1-16 1 4 1 9 1-11 1-5 1 16 1-13 1 16 1-2 1 6 1-11 1-6 1-2 1 3 1 6 1 6 1 16 1-20 1-2 1-3 1 26 1 2 1-26 1 5 1-3 1-2 1-6 1 21 1-10 1-9 1 3 1 11 1-2 1-11 1 8 1-9 1-4 1 8 1-5 1 16 1-15 1 8 1 10 1-4 1-20 1 22 1-6 1-2 1-2 1-9 1-9 1 7 1 11 1-7 1 11 1 2 1 6 1-29 1 22 1-1 1 8 1-11 1-2 1-10 1 11 1-11 1 16 1-8 1 9 1 8 1-29 1 9 1-3 1 5 1-3 1-4 1 13 1-5 1 1 1-7 1 10 1 3 1-6 1-1 1 10 1-5 1-1 1-3 1-5 1 3 1 18 1-11 1-4 1-8 1-1 1 14 1 4 1-8 1 2 1-8 1 1 1 1 1-7 1 0 1 9 1 9 1 2 1-17 1 4 1-3 1 5 1-2 1-1 1-9 1-3 1 9 1 3 1-18 1-22 1-16 1-32 1 28 1-2 1 21 1-14 1 16 1 9 1 1 1 12 1-6 1-1 1-65 1-73 1-127 1-131 1 45 1 98 1 50 1 6 1 26 1 47 1 59 1 46 1 23 1 10 1 14 1-11 1 12 1-12 1 6 1-7 1 2 1-2 1 5 1-2 1 24 1-21 1 6 1-11 1-7 1 13 1-5 1 9 1-5 1 11 1-3 1-6 1 8 1-4 1-7 1-12 1 30 1-17 1 6 1-7 1-10 1 11 1 7 1 14 1-22 1 6 1 2 1 0 1-16 1 25 1-18 1-7 1 19 1-5 1 0 1 1 1 2 1-1 1-22 1 14 1 16 1 10 1-28 1 9 1 0 1 9 1 3 1-3 1-21 1 5 1 9 1-9 1 22 1-21 1 0 1 10 1-1 1 3 1-2 1-12 1 0 1 8 1-9 1 22 1-37 1 22 1 15 1-6 1-6 1-3 1-1 1 22 1-32 1-10 1 30 1-19 1 0 1 11 1-12 1 26 1-20 1 10 1-20 1 31 1-6 1-17 1 1 1 22 1-8 1-10 1-8 1 14 1-1 1 2 1-2 1 3 1-4 1-6 1 15 1-11 1 0 1 4 1-16 1 1 1 6 1-12 1 20 1-5 1 1 1-2 1 0 1 14 1-5 1-9 1 4 1 2 1 3 1 0 1-16 1 17 1 3 1-12 1 2 1 14 1-4 1-24 1-7 1-5 1-12 1-34 1-81 1-28 1 17 1 62 1 13 1-13 1 12 1-10 1 65 1 9 1 17 1 3 1-8 1 18 1-10 1 1 1-9 1 4 1 11 1 6 1-7 1 1 1-8 1 12 1-20 1 14 1-11 1 12 1 12 1-17 1 8 1 1 1-26 1 27 1-16 1-9 1-3 1-33 1-37 1-78 1 2 1 40 1 16 1 33 1-11 1-3 1 11 1 24 1 38 1 16 1 9 1-7 1-13 1 13 1-8 1 15 1-20 1 14 1 7 1 0 1-2 1-7 1 6 1-18 1 18 1 10 1-20 1 16 1-11 1 5 1 8 1-19 1 12 1-8 1 18 1-1 1-5 1 0 1 1 1-8 1-2 1 4 1-11 1 16 1-6 1-18 1 7 1 14 1-17 1 8 1 3 1-4 1 9 1 3 1-1 1-4 1 16 1-15 1-5 1 3 1 1 1-9 1 10 1-6 1 6 1-1 1-1 1-9 1 10 1 2 1 3 1 0 1-6 1 9 1-5 1-6 1 7 1-8 1 9 1 1 1-21 1 6 1 8 1 1 1-3 1 8 1 0 1-13 1-1 1 19 1-4 1-10 1 8 1-6 1 5 1 7 1-6 1-9 1 14 1-8 1 13 1-12 1-8 1 8 1-11 1 5 1 3 1 2 1-16 1 9 1-3 1-17 1 10 1-20 1-9 1-54 1-87 1-111 1-35 1 85 1 89 1 31 1-16 1-29 1 39 1 38 1 37 1 23 1 13 1 3 1-4 1 18 1 2 1-10 1 12 1-2 1-17 1 8 1-7 1 13 1-23 1-41 1-26 1-3 1 19 1 51 1-17 1 2 1 2 1-7 1 34 1-3 1 13 1 0 1 6 1-9 1 12 1-5 1 5 1-2 1 4 1-3 1-11 1 8 1 2 1 9 1-8 1 0 1 7 1-14 1 17 1-24 1 15 1 8 1 5 1-22 1 3 1 7 1-2 1-2 1 5 1-16 1 7 1 5 1 14 1-20 1 8 1 9 1-18 1 4 1 12 1 4 1-6 1 6 1-12 1-14 1-5 1 20 1 5 1-9 1 5 1 10 1-18 1 12 1-5 1-8 1 16 1-17 1 11 1 4 1-8 1 3 1-8 1 13 1-15 1 21 1-1 1-9 1-6 1 4 1-7 1 13 1-5 1-16 1 9 1 4 1 7 1 7 1-18 1-5 1 14 1-11 1 7 1 0 1-2 1 4 1 0 1 6 1-12 1 2 1 0 1 4 1-7 1 2 1 18 1-18 1 0 1 1 1 0 1 0 1-10 1 11 1 7 1-16 1 8 1 13 1-6 1 3 1-11 1 7 1-10 1 9 1-2 1 1 1 12 1-6 1 6 1 5 1-11 1-6 1 12 1-21 1 9 1-15 1 20 1 0 1 2 1-9 1-5 1 11 1-13 1 21 1-11 1 9 1-13 1 6 1-3 1 8 1-14 1 7 1 4 1 4 1 1 1-9 1 1 1-4 1-1 1-3 1 7 1-10 1 4 1 3 1-4 1-1 1-18 1 5 1-25 1-39 1-59 1 5 1 47 1 35 1 17 1-7 1-22 1-3 1 22 1 7 1 28 1 2 1-6 1 4 1 9 1 12 1 5 1-13 1-12 1 25 1 2 1-10 1-3 1 1 1-1 1 0 1 2 1-6 1 8 1-13 1 14 1 1 1 9 1-15 1 2 1 0 1 4 1 0 1-9 1 7 1-2 1-9 1 9 1-5 1-9 1 14 1-6 1 22 1-14 1-7 1 13 1-16 1 15 1-15 1 14 1 2 1-3 1-3 1 10 1 3 1-18 1 2 1 6 1-13 1 10 1 6 1-8 1 1 1 0 1-21 1 14 1 6 1-4 1 10 1 5 1-23 1 12 1-10 1 9 1 4 1-6 1 1 1 1 1-7 1 12 1-4 1 19 1-24 1 10 1 2 1-18 1 14 1 9 1-18 1 11 1 3 1-3 1-1 1-5 1 1 1-1 1 11 1-14 1 9 1-16 1 15 1 5 1-15 1 14 1 3 1-10 1 4 1-5 1 2 1-2 1 7 1-7 1-2 1 11 1-5 1-4 1 9 1-12 1 8 1 0 1-4 1-13 1 24 1-9 1-13 1 14 1-9 1 8 1 13 1-16 1 6 1-11 1 17 1-12 1 11 1-9 1-5 1 6 1 7 1-6 1 2 1-17 1 13 1 7 1-2 1-5 1 1 1 11 1-9 1 1 1-4 1 2 1 3 1-1 1-2 1-3 1 5 1 12 1-11 1-6 1 13 1-17 1 4 1 2 1-4 1 7 1 8 1-6 1-12 1 13 1-3 1-8 1 1 1 9 1-6 1 2 1 2 1-3 1 7 1-8" fill="none" stroke="#9600ff" stroke-width="2.8" stroke-linejoin="miter" vector-effect="non-scaling-stroke"/>
<path transform="translate(89.200,0) scale(0.35344,0.1)" d="M0,4083l1 20 1-4 1 9 1-20 1-13 1 16 1 4 1-30 1 31 1-39 1 29 1-27 1 22 1 25 1-37 1 8 1 8 1-13 1-10 1 73 1-43 1-15 1 56 1-40 1-12 1 10 1-34 1 37 1 19 1-1 1-27 1-1 1-2 1 17 1 1 1 26 1-27 1-22 1 26 1 2 1-7 1-33 1 25 1 24 1 1 1-10 1 23 1 13 1-55 1 8 1-16 1 58 1 13 1 19 1-95 1 10 1 46 1-24 1 4 1-6 1 19 1-38 1-1 1-3 1-41 1 45 1 9 1 12 1-48 1 51 1-31 1 30 1 9 1-23 1 14 1 3 1-33 1-46 1 61 1 3 1 20 1-3 1-10 1-27 1 36 1-2 1-6 1-30 1 35 1-9 1-55 1 76 1-34 1 4 1 32 1-33 1-19 1 73 1-53 1-37 1 19 1-2 1-13 1 15 1 18 1-19 1-9 1 25 1 20 1-31 1-7 1-11 1-7 1-6 1-13 1 20 1-2 1-15 1-15 1 7 1 0 1-67 1 23 1-18 1-7 1-38 1-61 1-67 1-52 1-186 1-163 1-307 1-159 1 139 1 246 1 209 1 204 1 64 1 77 1 44 1 40 1 53 1-13 1 33 1-49 1 41 1 46 1-5 1 17 1-9 1-8 1 7 1 12 1-5 1 52 1-45 1 19 1 14 1-59 1 58 1-8 1-4 1 4 1-50 1 66 1-35 1 24 1-37 1 15 1 17 1 31 1-53 1 10 1 4 1 8 1 1 1 3 1-12 1 5 1 16 1 5 1-14 1 6 1 34 1-53 1 21 1 12 1-2 1-30 1 23 1 8 1-27 1 10 1 36 1-16 1-29 1 23 1-22 1 31 1-18 1 11 1-28 1 17 1 25 1-17 1 13 1 5 1-16 1 1 1 9 1-27 1 16 1 10 1-41 1 45 1-17 1 6 1-21 1 17 1-10 1-7 1 32 1-24 1 39 1-13 1-21 1-9 1 20 1-21 1 23 1 0 1 4 1-29 1 23 1 1 1 24 1-42 1-4 1 25 1-6 1-14 1-1 1 23 1 3 1-17 1 0 1 9 1 29 1-31 1-39 1 26 1-2 1 33 1-25 1 14 1-5 1 35 1-17 1-15 1-5 1-5 1 9 1-7 1-33 1 50 1-28 1 20 1 1 1 6 1 9 1-41 1 18 1-7 1-18 1 29 1-18 1 55 1-64 1 26 1 6 1-39 1 31 1-1 1 29 1-49 1 61 1-29 1-10 1-25 1 35 1 2 1 7 1 9 1-22 1 24 1-4 1-45 1 76 1-54 1-25 1 46 1-3 1-12 1-13 1 24 1-6 1 21 1-21 1-11 1 6 1-22 1 12 1 46 1-10 1-18 1-5 1-3 1-14 1 29 1 20 1-42 1 23 1 17 1-17 1-11 1-9 1 21 1-29 1 28 1-19 1-7 1 14 1-40 1 41 1-44 1 70 1-28 1-20 1 8 1 21 1-12 1-2 1-13 1-4 1 18 1-14 1 17 1-3 1 15 1 2 1-23 1 27 1-12 1-6 1 19 1-30 1-8 1 22 1-3 1 13 1-7 1 4 1-9 1-19 1 13 1 4 1 10 1-1 1-6 1 6 1 3 1-2 1 15 1-21 1 1 1 0 1 13 1-6 1-10 1-15 1 24 1-13 1 33 1-24 1 36 1-53 1 5 1 0 1 23 1-33 1 30 1-28 1 23 1 0 1-2 1 0 1-13 1 7 1 11 1 4 1-11 1-16 1 8 1 4 1-4 1 5 1-8 1 9 1 31 1-43 1-5 1 15 1 26 1-25 1-13 1-1 1 3 1-11 1 19 1 0 1-31 1-48 1-64 1-39 1-12 1 85 1 32 1 28 1 29 1 9 1-10 1 6 1 9 1-18 1 27 1-15 1-7 1-4 1 6 1-33 1-48 1-85 1-125 1-304 1-132 1-11 1 109 1 199 1 208 1 90 1 59 1 27 1 30 1 10 1 8 1-7 1 4 1-2 1 3 1-8 1 11 1-66 1-53 1-80 1-19 1 49 1 42 1 68 1 16 1 34 1-5 1 24 1 11 1-4 1 6 1-1 1 8 1 2 1-11 1 2 1-40 1 43 1-12 1 5 1 8 1 5 1-15 1 5 1-6 1 7 1 5 1-7 1-4 1 10 1 3 1-16 1 6 1 0 1 20 1-16 1-10 1 14 1-16 1-7 1-20 1 34 1 6 1-3 1 13 1-20 1-23 1 33 1-2 1-7 1 7 1-5 1 10 1-10 1 29 1-20 1 23 1-11 1-24 1-6 1 5 1 25 1-20 1 11 1-23 1 18 1 0 1 2 1-23 1 18 1 2 1-12 1 20 1-8 1 18 1 4 1-9 1-28 1 40 1-38 1 23 1 1 1-13 1 17 1-14 1-3 1-7 1-2 1 0 1 28 1-23 1 6 1 10 1-14 1 4 1 0 1 5 1 19 1-31 1 12 1-3 1 9 1-20 1 10 1-6 1 10 1 5 1-8 1-9 1 31 1-21 1 6 1-5 1 1 1-6 1-4 1 11 1-14 1 0 1-8 1 24 1 0 1-28 1 45 1-13 1-12 1 9 1-15 1 16 1-1 1-3 1-2 1 5 1-17 1 6 1 8 1-8 1 3 1 5 1-7 1-6 1 17 1-13 1-4 1-7 1 24 1-6 1-3 1-1 1 5 1 22 1-25 1-3 1-6 1-2 1 32 1-10 1-10 1-7 1 27 1-20 1 17 1-37 1 24 1-12 1 7 1 4 1-1 1-24 1 34 1-11 1-9 1-1 1-3 1 9 1 15 1 0 1 12 1-9 1-9 1-8 1 14 1-21 1 8 1-4 1 14 1-4 1 7 1-13 1 19 1-13 1-7 1 5 1 0 1 10 1-16 1 5 1 12 1-2 1-15 1-4 1 16 1 8 1-17 1 3 1-13 1 20 1-1 1-11 1-14 1 33 1-15 1 3 1-14 1 10 1-8 1-7 1 16 1 8 1-28 1 14 1 4 1-26 1 35 1-10 1-10 1-12 1-11 1 3 1 0 1-23 1-21 1-52 1-110 1-175 1-340 1-316 1 42 1 155 1 121 1 176 1 206 1 157 1 102 1 35 1 29 1 32 1-18 1 2 1 16 1 15 1-4 1-5 1-6 1 14 1-11 1-5 1 10 1 13 1 2 1-10 1-10 1 0 1 20 1 1 1 7 1-16 1 3 1-11 1 2 1-12 1 37 1-19 1-3 1 7 1-15 1 10 1-2 1 1 1 9 1 1 1 3 1-7 1 7 1 2 1-12 1-19 1 25 1 4 1-13 1 2 1-1 1 6 1 4 1-6 1 22 1-42 1 16 1 9 1 1 1 2 1-5 1-4 1-4 1-2 1-4 1 2 1 16 1 7 1-12 1 9 1-2 1-12 1 14 1-7 1-11 1 14 1-26 1 25 1-13 1-9 1 12 1 7 1-10 1 25 1-2 1-9 1 4 1-6 1-1 1-3 1 4 1-15 1-8 1 10 1 13 1-2 1-12 1 2 1-8 1 22 1-11 1 7 1 0 1-3 1 10 1-26 1 32 1-26 1 12 1-9 1 13 1-6 1 12 1-5 1-1 1-3 1-1 1-4 1-4 1 20 1-27 1 6 1 14 1-7 1 8 1-20 1 13 1-12 1 3 1 5 1-10 1 9 1-5 1-20 1 11 1 0 1-29 1-28 1-35 1-121 1-206 1-183 1 37 1 130 1 27 1 48 1 121 1 116 1 66 1 36 1 5 1 13 1-12 1 36 1-23 1 22 1-2 1-21 1 15 1-14 1 6 1 1 1 1 1 5 1-12 1-16 1-19 1-55 1-76 1-185 1-178 1-40 1 126 1 68 1-3 1 102 1 132 1 66 1 51 1 18 1 18 1-6 1 19 1-10 1 14 1 3 1-16 1-7 1 14 1 5 1-14 1 18 1-4 1 0 1 3 1-1 1 1 1-4 1-4 1 10 1-3 1 0 1-5 1 7 1 7 1-15 1 17 1-2 1-15 1-9 1 21 1-14 1 16 1-15 1 8 1-1 1 4 1-20 1 22 1-22 1 23 1-20 1 5 1-5 1 13 1 5 1-10 1 7 1 2 1-4 1 0 1-15 1 10 1 1 1-3 1 9 1-14 1 3 1-2 1 4 1 6 1 18 1-10 1 4 1-10 1 9 1-11 1 2 1 19 1-11 1-15 1 13 1-9 1 10 1-7 1 9 1-22 1 12 1-7 1 11 1 5 1-9 1 3 1-13 1 11 1 4 1 0 1-11 1-1 1 13 1 17 1-18 1-4 1-9 1 10 1-2 1-10 1-17 1 26 1-4 1 0 1 17 1-16 1 4 1 5 1-6 1-4 1-10 1 10 1-2 1 9 1 7 1-6 1-7 1 12 1-19 1 1 1 0 1-1 1 6 1-22 1 32 1-12 1 12 1-13 1-2 1-7 1 10 1 8 1 5 1-3 1 0 1-2 1 2 1-2 1 1 1-7 1-5 1 11 1 5 1 4 1-14 1-9 1 8 1 7 1 0 1 3 1-15 1 5 1 12 1 4 1-23 1 15 1-2 1 5 1-14 1 8 1 2 1 1 1-23 1-4 1 13 1-8 1 4 1-13 1-16 1-27 1-41 1 40 1 8 1-2 1 12 1-16 1 25 1 12 1-8 1 6 1-24 1-33 1-95 1-144 1-111 1 11 1 114 1 65 1 1 1 2 1 69 1 85 1 54 1 16 1-3 1-1 1 16 1-11 1 15 1-3 1 10 1 2 1 7 1-23 1 21 1-14 1-11 1 14 1 0 1 5 1-2 1-3 1-6 1 7 1 5 1 0 1-29 1 19 1 7 1 2 1-5 1 11 1-4 1-5 1 13 1-13 1 3 1 0 1-8 1 15 1-12 1-2 1-3 1 16 1-11 1 0 1-10 1 12 1 14 1-18 1 17 1-13 1-2 1-14 1 18 1-6 1 6 1-4 1 15 1-5 1-10 1 14 1-9 1-5 1 2 1-3 1 3 1-8 1 10 1-6 1 9 1-6 1 4 1-20 1 30 1-8 1-17 1 4 1 5 1 2 1 10 1-11 1 2 1-11 1 9 1-4 1 6 1 9 1-7 1-10 1 8 1-9 1 11 1 5 1 13 1-19 1 8 1-2 1-4 1 15 1-16 1 1 1 2 1-7 1 10 1-10 1 0 1 4 1-5 1 4 1-9 1 11 1 16 1-17 1-5 1-8 1-7 1 19 1-2 1 7 1-1 1-3 1-14 1 10 1 6 1-14 1 13 1 7 1-4 1-14 1 8 1-12 1 3 1 8 1-5 1 4 1-4 1 3 1-3 1-14 1 9 1-5 1-6 1-43 1-21 1-40 1-56 1 48 1 42 1 6 1 5 1 0 1 36 1 2 1 17 1 12 1 14 1-10 1-2 1 4 1 15 1-3 1-9 1 3 1-10 1 18 1 0 1 12 1-44 1 18 1 11 1 3 1-17 1 12 1 4 1 2 1-9 1-1 1-1 1-29 1 7 1-6 1-32 1-57 1-72 1-39 1 68 1 48 1 9 1-9 1-2 1 14 1 65 1 12 1 27 1-9 1 1 1 20 1-15 1-12 1 13 1-8 1 15 1-9 1 0 1 10 1-8 1-6 1 6 1 3 1-10 1 5 1-9 1 25 1-4 1-14 1 1 1 4 1 0 1 6 1 11 1-33 1 8 1 8 1 8 1 0 1-28 1 21 1-2 1 3 1-3 1-2 1 6 1-1 1-1 1-8 1-2 1 7 1-10 1 11 1 5 1-5 1 0 1-9 1 25 1-1 1 1 1-27 1 7 1 7 1-4 1 11 1-10 1 0 1-7 1-5 1 16 1-8 1 7 1-5 1 4 1-3 1-9 1 16 1-5 1 1 1-5 1 9 1-14 1 3 1 0 1 2 1 7 1-1 1 5 1-6 1-5 1-1 1 7 1 2 1-17 1 2 1 4 1-7 1 18 1-9 1 9 1-18 1 4 1 9 1-4 1 3 1-8 1 18 1-11 1 3 1-18 1-11 1 6 1-14 1-39 1-94 1-91 1-24 1 68 1 73 1 36 1-25 1-21 1 16 1 62 1 23 1 26 1 9 1 2 1 16 1-16 1 13 1-5 1 3 1 3 1-3 1-5 1-1 1-3 1-15 1-33 1-34 1 19 1 11 1 22 1 10 1-10 1-6 1 5 1 5 1 29 1 9 1-6 1 7 1-7 1 20 1-22 1 19 1-13 1 0 1 7 1-10 1 13 1 1 1 19 1-17 1 1 1-11 1 1 1 11 1-4 1-3 1 3 1 0 1 2 1-13 1 13 1-12 1 15 1-4 1-6 1 7 1-10 1 13 1-6 1 11 1-15 1-6 1 7 1-8 1 15 1-3 1 6 1-6 1 2 1-3 1-3 1-2 1 1 1 9 1-7 1 7 1-3 1 19 1-22 1 1 1 5 1 3 1 1 1-2 1 1 1-6 1-4 1 12 1-7 1-5 1 6 1-8 1 4 1-7 1 19 1-10 1-7 1 0 1 18 1-12 1 4 1 1 1-7 1-1 1 3 1 7 1-6 1 6 1-18 1 15 1 1 1-6 1-1 1 11 1-3 1-2 1 1 1 1 1-6 1 11 1-22 1 8 1 10 1-6 1 5 1 2 1-5 1 0 1 1 1 3 1-8 1-2 1 6 1 7 1-15 1 30 1-19 1-5 1-10 1 2 1 12 1-8 1-3 1 22 1-8 1-10 1 15 1 3 1-17 1 2 1 11 1-8 1 1 1-10 1 10 1 1 1-8 1 18 1-9 1-6 1 0 1 6 1-1 1 8 1 0 1-13 1 7 1 2 1-16 1 3 1 11 1 12 1-11 1 1 1-11 1 3 1-20 1 0 1-18 1-31 1-74 1-64 1 7 1 57 1 59 1 15 1 1 1-46 1 6 1 27 1 43 1 8 1 30 1-11 1 22 1-21 1 4 1 12 1 0 1-5 1 9 1-8 1 6 1-4 1 13 1-15 1 7 1-6 1 3 1 7 1-15 1 18 1-13 1-1 1-4 1 15 1-6 1 6 1-20 1 22 1-13 1 11 1-9 1-16 1 12 1 16 1-9 1-1 1 10 1-11 1-1 1-7 1-1 1 13 1 0 1-4 1 0 1-1 1 14 1-9 1 4 1 3 1-4 1-21 1 12 1-1 1 16 1-14 1-5 1 13 1 0 1-10 1 7 1 1 1-3 1 3 1 4 1-1 1 2 1-8 1 1 1 1 1 0 1 10 1-14 1 13 1-9 1-2 1-2 1-4 1 0 1 27 1-5 1-11 1 6 1-10 1-1 1 0 1-4 1 1 1 8 1-7 1 0 1 10 1-7 1-11 1 17 1-4 1-2 1 7 1 15 1-22 1 2 1 5 1-9 1-1 1-5 1 11 1 9 1-14 1 10 1-3 1 0 1-11 1 8 1 9 1-5 1-7 1 18 1-4 1-15 1 2 1 19 1-12 1 1 1-3 1 4 1-15 1 11 1-7 1 7 1 9 1-8 1 5 1-7 1 6 1 0 1 1 1-2 1-11 1 17 1-11 1 7 1-14 1 7 1 2 1-2 1 2 1 0 1-4 1-3 1 13 1-6 1-3 1 7 1-3 1-9 1 18 1-20 1 14 1-3 1-1 1 4 1-6 1-13 1 15 1 3 1 1 1-16 1 12 1-9 1 10 1 12 1-15 1 13 1-2" fill="none" stroke="#000088" stroke-width="2.8" stroke-linejoin="miter" vector-effect="non-scaling-stroke"/>
<path transform="translate(89.200,0) scale(0.35344,0.1)" d="M0,5140l1-37 1-57 1 53 1-7 1-6 1 1 1 15 1 41 1-53 1 9 1 43 1-64 1 54 1 17 1-36 1 45 1-44 1 19 1-1 1-18 1 41 1 13 1-91 1 25 1 10 1 14 1-18 1 19 1-41 1 66 1-23 1 14 1-31 1 4 1 40 1-33 1 22 1-49 1 15 1 44 1-60 1 43 1-12 1-19 1-5 1-1 1 9 1 9 1 12 1-21 1 16 1-11 1 6 1-39 1 2 1 7 1 16 1 29 1 29 1-33 1-2 1 29 1-55 1-37 1 81 1-26 1-3 1-3 1 45 1-31 1 71 1-80 1 11 1-11 1-7 1 63 1-9 1-32 1 8 1-21 1 16 1-14 1-21 1 2 1 27 1-23 1 12 1 11 1 13 1 10 1-2 1 2 1-19 1-39 1 14 1-10 1 16 1 19 1-46 1 13 1 31 1-9 1 21 1-26 1 25 1-27 1-15 1 36 1-32 1 21 1 22 1-27 1-27 1-14 1 8 1-40 1 10 1 58 1-62 1-36 1 14 1-6 1-12 1 21 1-40 1-35 1-28 1-99 1-133 1-132 1-210 1-258 1-73 1 166 1 102 1 232 1 228 1 92 1 76 1 40 1 34 1-4 1 9 1 42 1-20 1 34 1 17 1-13 1 26 1-22 1 30 1-38 1 24 1 10 1 15 1 11 1-4 1-2 1 23 1 12 1-29 1 44 1-69 1 27 1 26 1-59 1 18 1-8 1 77 1-4 1-67 1 65 1-23 1-5 1-10 1 5 1 6 1 40 1 8 1-18 1-47 1 36 1-26 1-10 1 40 1-14 1-22 1 18 1 1 1 13 1 0 1-32 1 20 1-27 1 6 1 41 1-32 1 0 1 17 1-22 1 9 1 9 1-2 1-11 1-15 1 37 1-21 1-22 1 42 1-33 1 40 1-28 1 41 1-23 1 24 1-24 1-5 1 0 1-4 1 3 1 15 1-9 1-2 1 4 1-2 1 15 1 13 1-57 1 29 1-23 1 31 1 10 1 0 1-12 1-32 1 30 1-19 1 34 1-17 1 6 1-45 1 48 1-4 1-31 1 44 1-11 1-12 1-26 1 41 1-54 1 30 1 24 1-25 1 4 1 30 1-25 1 46 1-66 1 8 1-7 1 3 1 22 1 6 1-17 1-11 1 0 1 39 1 36 1-69 1 38 1-11 1-7 1 16 1-12 1 3 1-6 1-10 1 28 1-6 1 0 1-28 1 14 1-11 1 28 1 5 1-11 1-34 1 11 1 12 1 10 1-29 1 15 1 18 1-5 1-32 1 28 1-1 1 9 1-9 1 16 1-25 1 49 1-40 1 9 1-21 1-11 1 23 1-1 1 1 1-29 1 6 1 17 1-19 1 46 1-36 1 20 1 4 1 5 1-19 1-4 1-16 1 50 1-29 1-19 1 19 1-7 1 18 1-4 1-47 1 52 1 33 1-45 1 7 1 20 1-15 1-6 1-1 1 23 1-6 1-17 1-2 1 11 1-2 1-23 1 12 1 11 1 1 1-21 1 9 1-13 1 24 1-9 1-2 1 11 1-13 1 33 1-66 1 36 1 3 1 7 1-9 1 6 1-11 1 18 1-4 1-9 1 5 1 18 1-37 1 5 1 7 1-16 1 36 1-15 1 19 1-18 1-3 1-6 1 13 1-40 1 47 1-51 1 36 1 28 1-4 1-31 1 25 1-11 1 20 1-18 1-4 1-16 1-16 1 32 1-19 1 29 1-5 1-4 1-5 1 17 1-20 1 23 1-32 1-19 1 49 1-32 1 32 1-8 1 12 1-25 1-15 1-5 1 29 1 1 1-27 1 8 1-12 1 34 1-48 1 1 1-16 1-39 1-101 1-31 1-25 1 66 1 61 1 54 1 22 1-1 1 31 1 3 1 9 1-23 1 11 1 2 1-13 1-25 1-11 1 10 1-38 1-64 1-146 1-273 1-210 1 49 1 132 1 161 1 172 1 111 1 86 1 28 1 16 1-7 1 29 1-19 1-40 1 37 1 6 1-36 1 18 1-45 1-47 1-70 1-16 1 9 1 82 1 51 1 4 1 55 1 0 1 15 1 2 1-19 1 23 1-2 1-11 1-8 1-4 1 18 1-15 1 4 1-2 1-15 1 24 1 4 1-34 1 9 1-26 1-14 1-25 1-31 1-31 1-75 1-2 1-11 1-4 1 31 1 63 1 15 1 46 1 37 1 32 1 5 1-19 1 32 1-4 1-13 1 32 1-28 1 44 1-23 1 27 1-34 1-16 1 31 1-2 1-38 1 29 1 0 1 7 1 8 1-15 1 8 1 3 1 19 1-17 1-11 1-5 1 3 1-38 1 22 1 24 1-15 1-9 1 38 1-29 1 18 1 6 1-1 1-10 1-18 1-4 1 16 1 0 1-3 1 17 1 10 1-19 1-3 1 18 1-5 1-10 1 4 1 23 1-28 1 1 1-9 1-3 1 16 1-24 1 41 1-31 1 16 1-18 1 7 1 9 1-13 1-15 1 20 1 19 1-7 1-9 1-11 1 54 1-23 1-34 1 19 1-1 1 8 1 8 1 5 1-19 1-3 1-14 1 54 1-49 1 14 1-22 1 37 1-20 1-10 1 4 1 20 1-17 1-7 1-6 1 23 1-14 1 19 1-17 1 2 1 28 1-16 1-7 1-15 1 10 1 0 1 24 1-1 1-31 1 19 1-19 1-2 1 21 1 4 1-24 1 40 1 11 1-51 1 16 1-15 1 8 1-24 1 44 1-11 1-12 1 11 1 3 1-16 1 20 1-5 1-6 1-1 1 8 1-1 1-19 1 22 1-24 1 18 1 4 1-23 1 12 1 12 1-20 1 23 1-32 1 17 1 18 1-18 1-18 1-7 1-4 1 2 1-19 1 1 1 17 1-28 1 16 1-10 1 20 1 8 1-6 1 14 1-3 1 27 1-5 1-13 1 5 1 0 1-9 1-4 1 11 1 8 1-18 1 23 1-12 1-13 1 29 1-22 1-11 1-6 1 22 1-1 1 5 1-7 1 3 1-8 1 15 1-18 1 3 1-2 1-11 1 1 1-19 1-21 1-36 1-73 1-166 1-288 1-307 1 17 1 173 1 111 1 103 1 214 1 155 1 72 1 17 1 46 1 1 1 5 1 2 1-16 1 41 1-13 1-3 1 0 1-8 1 36 1-12 1 3 1 26 1-27 1-9 1 7 1-17 1 27 1-21 1 10 1-2 1-7 1 16 1-7 1 1 1-2 1 7 1-6 1-10 1 12 1-9 1 10 1-15 1 0 1 22 1-12 1-6 1 1 1 7 1-7 1 7 1-2 1-18 1 34 1-21 1 3 1-3 1 3 1 1 1 1 1 0 1 3 1 4 1-24 1 14 1-10 1 4 1 7 1 3 1-18 1 20 1 5 1 10 1-23 1 6 1 4 1-2 1-3 1 2 1 6 1 8 1-28 1 11 1-6 1-2 1 19 1-5 1 7 1 4 1-10 1-2 1 12 1-14 1 23 1-30 1 7 1-1 1-20 1 28 1-8 1 0 1 8 1 3 1-20 1 12 1-1 1-10 1 36 1-30 1-13 1 15 1 9 1-5 1-8 1-20 1 33 1 25 1-31 1 1 1-11 1 11 1 24 1-33 1 6 1-2 1 25 1-20 1 7 1-11 1-1 1 10 1-24 1 6 1 3 1 17 1-22 1 0 1 9 1-8 1-8 1-8 1-43 1 21 1-58 1-109 1-175 1-150 1 34 1 96 1 22 1 74 1 89 1 86 1 50 1 14 1 45 1 13 1-8 1 10 1 2 1 13 1-8 1-4 1 6 1-8 1 2 1 1 1-16 1-8 1 13 1-23 1-17 1-19 1-115 1-144 1-228 1 8 1 78 1 77 1 41 1 80 1 96 1 101 1 34 1 12 1 19 1 5 1-24 1 25 1 12 1 2 1 16 1-18 1-5 1-2 1-4 1 16 1 7 1-8 1 16 1-8 1-13 1 5 1-4 1 2 1 1 1 14 1-8 1-9 1-6 1 5 1 9 1 8 1-1 1 8 1-9 1 4 1-15 1-7 1 1 1 12 1 10 1-15 1-9 1 11 1-5 1 3 1 19 1 16 1-27 1 9 1-7 1-3 1 1 1 8 1-17 1-8 1 14 1 4 1 0 1-12 1 2 1 19 1-21 1 19 1-20 1 9 1-7 1 9 1-6 1 5 1-7 1 16 1-11 1 5 1-13 1-2 1 0 1-2 1 22 1 6 1-22 1-13 1 6 1 19 1-14 1-7 1 10 1 13 1-3 1 7 1-30 1 26 1-9 1-10 1 8 1-9 1 4 1 14 1-11 1 2 1-3 1 13 1 10 1-46 1 22 1 12 1 3 1 0 1-3 1 1 1-8 1 3 1-6 1 18 1-14 1 1 1-1 1-10 1 8 1 0 1 23 1-13 1-25 1 27 1-20 1-10 1 35 1-14 1 8 1-3 1 13 1-17 1 9 1-12 1 1 1-3 1 8 1-4 1 7 1 3 1-6 1-1 1-4 1-4 1 4 1-6 1-3 1 17 1-7 1-9 1 8 1-3 1 22 1-29 1 5 1 22 1-7 1-15 1 8 1-12 1-9 1 27 1-4 1-13 1-7 1-2 1 12 1 7 1-32 1 4 1-36 1-19 1 4 1 25 1-1 1-8 1 15 1 13 1 1 1 1 1 3 1-13 1-62 1-63 1-117 1-130 1 33 1 104 1 56 1-23 1 9 1 74 1 81 1 34 1 29 1-5 1 10 1 21 1-7 1-12 1 3 1-5 1 16 1-10 1 4 1 19 1-29 1 22 1-21 1 11 1 6 1-3 1 0 1-2 1-6 1 22 1-2 1-21 1 7 1 6 1-15 1 7 1 3 1 9 1-11 1 22 1-29 1 9 1-18 1 19 1-6 1 5 1 10 1-6 1-22 1 29 1 3 1-25 1 1 1 2 1 6 1-5 1 11 1-7 1 18 1-18 1-2 1 13 1-10 1-1 1-3 1-4 1 6 1 16 1-18 1 0 1 17 1-17 1 21 1-10 1-6 1-11 1 4 1 9 1 1 1 0 1-1 1-23 1 28 1 3 1-19 1 15 1-9 1 16 1-4 1-13 1 17 1-14 1 3 1-6 1-6 1 18 1-3 1-15 1 8 1 3 1-12 1 18 1-5 1 2 1 10 1-20 1-4 1 15 1 7 1-11 1 1 1-3 1-5 1 19 1-12 1-1 1-1 1 7 1-10 1 12 1 0 1-9 1-8 1-8 1 23 1-20 1 6 1 9 1-13 1 3 1 12 1-7 1 1 1-2 1-5 1 0 1 9 1-4 1-5 1-3 1-3 1 20 1-8 1-14 1 7 1 5 1-16 1-18 1-7 1-76 1-61 1-58 1 39 1 80 1 17 1 1 1-20 1 29 1 35 1 25 1 7 1 16 1 1 1 12 1-31 1 30 1-1 1-7 1 13 1-5 1 0 1 1 1 1 1 2 1-11 1 14 1 6 1-14 1 12 1-4 1 4 1-13 1 13 1-18 1 7 1-15 1 7 1-29 1-47 1-68 1-24 1 27 1 59 1 2 1-11 1-3 1 41 1 30 1 10 1 0 1 18 1 7 1-1 1-4 1-11 1 4 1 12 1-5 1-10 1 17 1-23 1 3 1 14 1-9 1 14 1 15 1-15 1-2 1 1 1-6 1 8 1 2 1-21 1 10 1-8 1 3 1 20 1-23 1 24 1-1 1-11 1 9 1-15 1 10 1-8 1 2 1 8 1-6 1 1 1-1 1 2 1-11 1 12 1-7 1-6 1 7 1-16 1 19 1 1 1 1 1-11 1 4 1 11 1-6 1 4 1-3 1 15 1-11 1 4 1-18 1 8 1-1 1 18 1-17 1 8 1 9 1-8 1-5 1 1 1 6 1-15 1-2 1 8 1-6 1 20 1-19 1-4 1 18 1-22 1 20 1-3 1-3 1 10 1-23 1 13 1-2 1 2 1-4 1 3 1-11 1 16 1 0 1-9 1-8 1-1 1 9 1 4 1-3 1 5 1-6 1-4 1-3 1-15 1 2 1-15 1-36 1-75 1-88 1-45 1 83 1 73 1 16 1-20 1-31 1 30 1 44 1 47 1 6 1 21 1 3 1 18 1-26 1 5 1-2 1 15 1 11 1-36 1 23 1 7 1-18 1 9 1-61 1-31 1 34 1 0 1 25 1 1 1 5 1-13 1 4 1 34 1-11 1 12 1-2 1 14 1-21 1 9 1 9 1 9 1-7 1-5 1-9 1 0 1 11 1 9 1-4 1-5 1 11 1-16 1 27 1-27 1 7 1 3 1-4 1 9 1-4 1-1 1-4 1 6 1 0 1-4 1-6 1-4 1 3 1 4 1-10 1 18 1 11 1-1 1-6 1-10 1 10 1 0 1-14 1 13 1-9 1-3 1-7 1 10 1 7 1 0 1-16 1 4 1 11 1-11 1-2 1 20 1-19 1 12 1-8 1-2 1 3 1 9 1-16 1 11 1 8 1 8 1-18 1 3 1 3 1-15 1 8 1 1 1 11 1-3 1-23 1 7 1 2 1-5 1 8 1 11 1-13 1-1 1 13 1-15 1-8 1 13 1-3 1-9 1 16 1-9 1 1 1 4 1 9 1-13 1 18 1-27 1 5 1 17 1-2 1-4 1-1 1 11 1-13 1 12 1 9 1-20 1 5 1 4 1-5 1 5 1-9 1 14 1-18 1 10 1-1 1 0 1-9 1 10 1-14 1 31 1-33 1 8 1 28 1-26 1 5 1 1 1 1 1-4 1 8 1-5 1-9 1 8 1-7 1-11 1 21 1-1 1 3 1-6 1-13 1 11 1-4 1-5 1 7 1 13 1-6 1-6 1-4 1 0 1 8 1 3 1 3 1-5 1-3 1-9 1-19 1-10 1-43 1-36 1-7 1 38 1 44 1-8 1 10 1-1 1-29 1 34 1 13 1 20 1 7 1-8 1 12 1-24 1 16 1-22 1 29 1-7 1-2 1-11 1 23 1-10 1 0 1 13 1-16 1 6 1-2 1 16 1-20 1 4 1 3 1-6 1 12 1 0 1-2 1-3 1 2 1-1 1-11 1 4 1 11 1 4 1-14 1 13 1-15 1 3 1-2 1-4 1 12 1-4 1 3 1-9 1 2 1 5 1 4 1 0 1 6 1 1 1-15 1 3 1 4 1-1 1 4 1-7 1 6 1-14 1 13 1 6 1-12 1 17 1-21 1 22 1-16 1 11 1-12 1-1 1 1 1 21 1-27 1 15 1 0 1-1 1 12 1-29 1 6 1 1 1 14 1-15 1-4 1 23 1-22 1 22 1-16 1-2 1-6 1 9 1 1 1-4 1 1 1-5 1 7 1 14 1-7 1-7 1-3 1 0 1 4 1 9 1-9 1 2 1-6 1 2 1 12 1 15 1-24 1 20 1-22 1-12 1 1 1 12 1-20 1 34 1-16 1 2 1 7 1-2 1-4 1-4 1 16 1-7 1-13 1 7 1 4 1-3 1-3 1 0 1 8 1-5 1 7 1 4 1-20 1 10 1 0 1-3 1-4 1 7 1 7 1-17 1 22 1-5 1-5 1 2 1-6 1-8 1 19 1-2 1-22 1 14 1-6 1 11 1-5 1-4 1 8 1-3 1-7 1 2 1-9 1 12 1 10 1 4 1-16 1 10 1 4 1-14 1 22 1-3 1-19 1-1 1 0 1 12 1-2 1 3 1-11 1 19" fill="none" stroke="#008000" stroke-width="2.8" stroke-linejoin="miter" vector-effect="non-scaling-stroke"/>
<path transform="translate(89.200,0) scale(0.35344,0.1)" d="M0,5993l1-47 1 28 1 44 1-33 1 18 1-23 1 4 1-1 1 57 1-61 1-8 1 3 1 20 1 30 1-19 1-46 1 34 1 12 1 34 1-75 1 27 1-2 1 32 1-36 1 16 1 23 1-13 1-19 1 4 1 35 1-25 1-14 1 39 1-61 1 15 1-9 1 17 1 0 1-35 1 14 1 32 1-19 1-11 1 30 1-22 1 6 1 21 1 36 1-19 1-26 1 13 1-25 1 28 1 8 1-62 1 24 1 7 1-49 1 78 1-23 1 25 1-17 1-11 1 11 1 6 1 12 1-34 1 28 1 26 1-73 1 51 1-15 1 28 1-9 1-49 1 17 1 20 1-62 1 36 1-13 1 4 1-11 1 22 1-4 1-2 1 58 1-67 1 34 1-29 1 16 1 10 1-2 1-12 1-13 1 25 1-21 1-11 1 51 1-94 1 72 1-17 1 26 1-49 1 54 1-54 1 45 1-8 1-27 1 27 1-41 1 40 1-48 1 47 1 4 1-29 1-45 1 28 1-17 1 22 1 33 1-40 1 30 1-40 1-61 1-25 1-20 1 0 1-63 1-65 1-185 1-184 1-181 1-120 1 119 1 182 1 172 1 183 1 105 1 39 1 25 1 9 1 36 1-20 1 52 1 8 1 40 1-62 1 36 1-23 1 60 1-3 1 11 1-51 1 14 1 29 1 16 1-20 1-11 1-9 1 60 1-60 1 72 1-94 1 57 1 2 1-1 1-36 1 19 1 20 1-20 1 7 1-9 1 30 1 27 1-27 1 11 1-25 1 22 1 6 1-43 1 18 1-1 1 7 1-7 1 8 1 23 1-5 1-2 1 6 1-56 1 39 1-22 1-6 1 11 1 23 1-10 1-14 1 0 1 1 1 23 1-5 1-12 1 13 1-14 1-2 1 5 1 32 1-27 1-16 1 5 1 49 1-3 1-54 1 7 1 16 1 2 1 0 1-2 1 3 1-21 1 31 1 12 1-43 1 10 1-8 1 72 1-68 1 2 1 13 1-8 1 14 1-10 1 33 1-34 1 19 1 21 1-48 1 21 1-7 1 18 1-23 1-18 1 23 1 29 1-50 1 25 1 13 1-2 1-21 1 29 1-34 1 3 1 3 1-6 1-5 1 35 1-29 1 3 1-1 1 18 1-2 1-11 1 10 1-33 1 52 1-30 1 14 1-12 1 7 1 9 1-11 1 27 1-1 1-18 1-7 1-9 1-18 1 58 1-27 1-28 1 25 1-11 1-6 1 33 1-17 1-4 1 10 1-5 1 11 1-34 1 24 1 0 1 12 1-10 1 29 1-31 1 26 1-23 1-12 1 23 1 11 1-35 1 23 1-8 1-10 1 7 1 20 1-7 1 8 1-9 1-3 1-39 1 10 1 30 1-4 1 19 1 5 1-49 1 11 1 0 1 13 1-9 1 17 1 3 1 9 1-46 1 29 1 30 1-6 1-49 1 13 1 22 1-39 1 29 1-16 1 5 1 10 1 41 1-44 1 5 1-27 1 23 1-5 1 1 1 1 1 1 1-8 1-5 1 9 1 17 1 6 1 4 1-41 1 12 1 4 1-6 1 5 1 23 1-41 1 19 1 16 1-19 1-6 1-6 1 3 1 33 1-10 1-28 1 27 1-24 1 17 1-3 1 28 1 3 1-8 1-50 1 9 1 1 1 28 1 6 1-13 1-4 1 25 1-40 1 39 1-16 1 8 1-12 1 9 1-17 1 3 1-8 1 13 1 2 1 18 1-4 1-5 1-19 1 12 1 11 1 1 1-6 1 3 1-8 1 8 1-12 1 7 1-16 1 33 1-7 1-21 1 1 1 21 1-5 1-5 1-12 1 4 1-23 1 13 1-2 1-19 1-49 1-59 1 0 1 16 1-21 1 50 1 36 1 20 1 22 1-36 1 71 1-42 1 13 1 19 1-9 1-2 1-51 1 0 1 37 1-59 1-72 1-123 1-186 1-155 1 1 1 89 1 183 1 111 1 97 1 72 1 2 1 19 1-4 1 23 1 21 1-48 1 37 1-7 1-26 1-10 1-20 1-21 1-57 1-43 1 39 1 42 1 29 1 21 1 28 1 11 1 32 1-13 1 22 1-32 1 2 1 39 1-37 1 2 1 12 1-3 1-25 1 27 1-20 1-14 1 9 1 2 1-24 1 0 1-34 1-41 1 3 1-57 1-73 1-12 1 39 1-23 1 59 1 31 1 40 1 18 1 35 1 10 1 14 1 15 1 3 1 40 1-44 1 17 1 3 1-1 1-4 1 16 1-26 1 27 1-26 1 5 1 30 1-19 1 3 1 14 1-3 1-15 1 6 1-11 1 7 1 28 1 1 1-27 1 8 1-5 1-9 1-7 1 43 1-19 1 5 1-11 1 14 1-21 1 5 1 11 1 5 1-32 1 15 1-5 1 16 1-7 1-13 1 14 1-12 1-11 1 42 1-9 1-16 1 23 1-10 1-2 1-33 1 43 1-20 1-1 1 9 1-3 1-17 1 4 1 27 1-12 1-38 1 52 1-29 1 6 1 4 1 4 1-25 1 5 1 22 1 1 1-7 1-13 1 1 1 46 1-24 1-23 1 8 1-7 1 16 1 6 1-17 1-6 1 11 1-9 1 15 1-6 1-11 1 7 1 10 1-2 1-4 1 29 1-19 1-15 1-3 1 9 1 1 1-8 1 10 1 7 1-13 1 25 1-13 1-26 1 24 1-12 1 0 1 5 1 0 1 0 1 1 1 8 1-12 1 10 1-16 1-13 1 7 1 18 1-6 1-16 1 23 1 1 1 0 1 5 1 4 1-28 1 20 1-13 1 15 1-19 1 21 1 7 1-26 1 14 1 11 1-29 1 30 1-36 1 17 1 24 1-31 1 13 1-6 1-38 1 16 1-6 1-28 1-36 1-22 1 1 1 3 1-6 1 23 1 1 1 12 1 12 1 29 1-9 1 14 1 13 1 12 1-3 1 13 1-19 1 18 1 1 1 13 1 0 1-30 1 18 1-1 1-23 1 18 1-12 1 18 1-16 1 20 1-10 1-3 1-23 1 47 1-28 1-14 1 34 1-33 1-12 1 6 1 1 1-22 1-17 1-90 1-181 1-249 1-282 1 22 1 124 1 118 1 145 1 163 1 137 1 80 1 18 1 18 1 26 1-9 1 26 1-1 1-15 1 1 1-3 1 8 1 2 1 13 1-6 1-3 1-6 1 13 1-3 1-1 1 1 1 2 1 3 1 2 1-4 1 3 1 3 1-8 1 9 1 5 1-3 1-11 1 4 1-4 1 6 1 9 1-25 1 22 1 13 1-19 1 10 1-4 1 1 1-11 1-4 1 19 1-2 1 2 1-24 1 3 1 13 1-3 1 15 1-8 1 21 1-23 1-18 1-14 1 51 1-25 1 3 1 8 1-7 1 3 1-3 1 4 1-23 1 11 1-2 1 2 1 20 1-17 1 11 1-18 1 5 1 10 1-6 1 10 1-7 1 9 1 22 1-15 1-26 1 2 1 13 1-1 1 7 1-29 1 35 1-9 1-12 1-1 1 13 1-16 1 4 1 10 1-6 1-3 1 6 1 4 1-13 1 17 1-16 1 5 1 4 1 10 1-9 1-3 1-7 1 21 1-19 1 20 1-20 1-3 1 7 1-9 1 5 1 18 1-21 1 4 1-5 1 14 1-12 1-7 1 21 1-14 1-10 1 7 1-12 1 8 1 7 1-8 1-13 1 14 1-19 1-3 1-31 1-33 1-105 1-156 1-136 1-1 1 97 1 78 1 9 1 92 1 91 1 66 1 20 1 17 1 0 1 4 1 5 1-3 1 11 1 18 1-23 1 3 1 0 1-7 1 17 1-16 1-5 1-11 1-13 1-6 1-33 1-77 1-156 1-173 1 1 1 97 1 43 1 22 1 83 1 95 1 69 1 43 1-6 1 18 1-2 1 12 1-2 1 21 1-22 1 12 1 8 1-9 1 11 1 1 1-6 1 4 1 5 1-15 1 17 1 3 1-29 1 12 1 12 1-3 1-6 1 12 1-4 1 3 1-14 1 0 1-6 1 16 1-11 1 9 1-7 1-3 1 10 1-2 1 4 1 4 1-7 1-12 1 3 1 12 1 10 1-22 1 16 1-6 1-13 1 16 1-7 1 21 1 4 1-23 1 18 1-3 1-17 1 4 1 3 1-12 1 2 1 0 1 17 1-2 1-17 1 9 1-7 1 21 1 2 1 10 1-28 1 1 1-10 1 27 1-11 1 1 1-11 1-1 1 3 1 11 1 0 1-16 1 10 1 14 1-23 1 7 1-5 1 7 1-3 1-3 1 3 1-10 1 6 1-1 1 8 1-10 1 0 1 10 1 5 1-11 1-3 1 14 1-3 1-24 1 35 1-19 1 1 1 4 1-3 1-1 1 3 1-1 1-8 1-2 1 9 1-4 1-1 1 18 1-11 1 9 1-11 1 2 1-2 1-7 1 2 1 16 1-8 1-4 1 11 1 7 1-15 1 9 1-5 1 6 1-5 1-1 1-14 1 5 1 0 1 1 1 9 1-14 1 2 1-11 1 13 1 18 1-15 1 1 1 2 1-1 1-1 1 12 1-19 1 16 1 1 1-10 1 22 1-33 1 13 1-13 1-6 1 19 1 9 1-18 1-10 1 18 1-22 1-1 1-13 1-30 1-26 1 14 1 26 1 1 1-8 1 11 1 12 1 0 1-17 1 10 1-4 1-39 1-81 1-150 1-127 1 42 1 113 1 41 1-13 1 24 1 64 1 84 1 35 1 30 1-22 1 28 1-4 1 3 1 8 1 7 1 2 1-9 1 2 1 19 1-12 1 3 1-1 1-10 1 10 1 0 1 17 1-24 1 11 1-12 1 14 1-7 1-1 1 15 1-26 1 10 1 6 1 9 1-14 1 2 1 7 1-9 1 9 1 6 1-19 1 0 1 9 1-8 1 1 1-5 1 1 1-5 1 14 1-2 1 11 1-12 1-13 1 19 1-9 1 9 1 6 1-22 1 27 1-21 1 6 1 7 1 11 1-7 1-18 1 17 1-1 1-8 1 9 1-23 1 17 1-4 1-3 1 9 1-10 1 10 1 2 1-15 1-1 1 19 1-7 1-18 1 7 1 22 1-18 1 5 1-3 1-5 1 6 1-7 1 8 1-14 1 8 1-3 1 5 1 10 1-5 1 0 1-6 1 11 1-1 1-2 1 6 1-12 1 6 1-12 1 12 1 10 1-13 1-8 1 22 1-31 1 15 1 3 1 0 1 1 1 8 1-15 1-2 1 18 1-21 1 4 1 7 1-4 1 7 1-6 1-4 1-1 1-8 1 14 1-11 1 5 1 9 1 1 1 1 1 4 1-12 1-3 1-5 1-11 1 14 1-13 1-3 1 11 1-20 1-3 1-30 1-66 1-38 1 29 1 44 1 22 1-1 1-19 1 30 1 29 1-1 1 8 1 38 1-17 1-3 1 10 1 4 1-6 1-3 1-13 1 15 1 11 1-16 1 5 1-1 1 0 1 1 1 15 1-15 1 2 1-6 1 2 1-13 1-3 1-11 1 9 1 1 1-7 1-18 1-66 1-44 1-51 1 76 1 26 1 21 1-10 1-7 1 14 1 40 1 20 1 14 1 0 1 1 1 11 1-4 1 8 1-5 1 5 1-4 1-13 1 22 1-12 1 3 1 16 1-14 1 6 1-11 1-4 1 19 1-17 1-1 1 23 1-9 1 0 1-2 1-1 1 8 1-5 1 1 1-9 1 8 1-14 1 3 1 5 1 2 1-4 1-1 1 6 1-8 1 11 1-5 1 5 1-13 1-7 1 8 1 7 1-1 1 1 1-12 1 13 1-8 1 3 1-3 1 11 1-3 1 4 1-14 1 2 1 9 1-5 1-2 1 3 1 1 1-3 1 8 1 2 1-3 1-7 1 7 1 1 1-8 1 11 1-7 1-11 1 10 1-5 1 11 1-2 1 2 1-16 1 10 1-7 1 7 1 5 1-4 1-11 1 3 1 10 1-13 1 7 1 0 1-8 1 12 1-7 1 7 1-9 1-4 1-1 1 10 1 0 1 2 1-1 1-2 1-9 1-10 1-25 1-26 1-78 1-57 1-33 1 50 1 74 1 19 1-20 1-22 1 25 1 44 1 41 1-4 1 23 1-8 1 14 1-11 1 13 1 4 1-11 1 4 1-9 1 6 1 3 1-18 1-8 1-21 1-29 1-4 1 37 1 18 1 5 1-27 1-3 1 13 1 35 1 3 1 2 1-1 1 8 1-2 1 6 1-13 1 5 1 2 1-6 1 13 1-7 1-3 1 5 1-1 1-19 1 18 1 2 1-21 1 15 1-3 1 7 1 2 1-10 1 1 1 9 1-13 1 33 1-21 1 5 1-4 1 4 1-28 1 24 1 6 1-12 1 2 1 5 1-3 1-16 1 17 1 2 1-4 1 3 1-3 1 6 1 1 1-13 1 26 1-20 1 18 1-30 1 5 1-5 1 9 1 8 1-6 1 7 1-7 1 3 1 0 1-4 1 2 1 7 1 1 1 3 1-10 1-2 1-6 1 21 1-14 1 6 1-13 1 13 1 0 1-2 1-4 1 3 1-4 1 4 1-18 1 11 1 13 1-9 1-8 1 4 1 6 1 7 1-12 1 12 1-6 1-12 1 12 1-17 1 18 1 5 1 15 1-14 1 2 1-7 1 3 1-4 1-10 1 6 1 6 1-3 1 5 1-19 1 24 1-12 1-3 1 9 1-2 1-7 1 10 1-1 1 1 1-13 1-7 1-2 1 1 1-13 1-22 1 4 1-6 1 26 1 3 1-22 1 9 1 13 1-11 1 5 1 7 1 3 1 1 1 11 1-3 1 4 1 1 1-14 1 15 1 6 1-5 1-1 1-6 1 8 1 4 1-15 1 11 1 2 1-14 1 15 1-21 1-9 1-1 1-27 1-50 1-57 1 6 1 52 1 44 1 21 1-25 1-21 1 2 1 21 1 36 1 9 1 16 1-3 1 7 1 0 1-9 1 10 1 11 1-14 1 11 1-14 1 11 1-2 1-1 1 4 1-11 1 1 1 17 1-14 1-8 1 8 1 0 1 2 1 6 1-1 1-9 1 3 1-2 1 13 1 12 1-15 1 15 1-24 1 14 1-8 1-9 1 11 1-10 1 0 1 3 1 10 1-3 1 5 1-14 1 6 1 10 1 0 1-12 1 4 1-7 1 3 1-6 1 2 1-1 1 7 1 7 1-12 1 3 1-2 1 7 1-3 1-9 1 4 1 8 1 13 1-8 1-19 1 10 1-4 1 8 1 3 1-15 1 10 1-6 1 5 1 10 1-20 1 13 1-6 1 4 1-5 1-2 1-2 1 5 1-5 1-4 1 13 1 8 1-10 1-4 1 3 1-8 1 11 1 9 1-5 1 1 1 6 1-12 1-2 1 6 1-6 1-2 1 4 1-11 1 9 1-4 1 17 1-14 1-1 1 10 1 4 1-10 1 4 1 5 1-4 1 0 1 5 1-11 1 1 1 3 1 3 1-1 1-2 1 3 1 10 1-10 1-2 1-5 1 24 1-26 1-1 1 4 1 7 1-24 1 16 1-7 1 17 1-2 1 3 1-2 1-2 1-5 1-5 1 4 1 6 1-1 1 2 1 5 1-1 1-13 1 17 1-18 1 4 1 9 1-12 1-5 1 15 1-5 1 1 1-5 1 1 1 8 1 0 1-2 1-10 1 0 1 1 1 8 1 1 1-2 1-6 1-1 1 3 1 7 1-12" fill="none" stroke="#ff00ff" stroke-width="2.8" stroke-linejoin="miter" vector-effect="non-scaling-stroke"/>
<path transform="translate(89.200,0) scale(0.35344,0.1)" d="M0,6914l1 13 1 18 1-73 1 64 1-14 1 10 1 5 1 52 1-66 1-36 1 25 1 34 1-55 1 37 1-24 1 39 1-17 1-15 1-9 1-3 1 28 1 14 1-9 1-38 1 53 1-1 1 17 1-35 1-8 1-2 1 31 1-9 1 12 1-43 1 34 1-32 1 19 1-27 1 22 1 18 1 33 1-40 1 0 1-7 1-16 1 31 1-7 1-59 1 70 1-5 1-25 1 17 1 28 1-30 1-15 1 13 1 2 1 16 1-35 1 3 1-6 1 18 1-40 1 50 1-9 1 14 1-21 1 30 1-53 1 2 1 46 1-4 1 3 1 12 1-18 1 30 1-1 1-11 1-29 1-10 1 4 1 39 1-7 1-50 1 53 1-50 1 17 1 11 1-3 1 8 1-11 1-40 1 81 1-33 1 9 1 22 1-18 1-63 1 25 1 26 1-20 1 8 1 26 1-46 1 37 1-12 1-20 1 24 1-12 1-23 1 41 1-8 1-41 1 33 1 4 1-28 1-2 1-26 1 20 1-35 1 30 1-60 1-4 1-2 1-29 1-75 1 19 1-71 1-105 1-171 1-233 1-247 1-78 1 96 1 215 1 216 1 177 1 116 1 69 1 83 1 48 1-21 1 46 1-21 1 5 1 36 1 22 1-16 1-12 1-10 1 36 1-5 1 28 1-28 1-10 1 34 1-9 1-21 1 41 1-32 1 17 1 26 1 4 1 0 1-3 1-29 1 30 1 4 1 2 1-2 1-16 1-1 1 54 1-48 1 4 1-28 1 6 1 18 1-40 1 48 1-15 1 26 1-12 1-18 1-2 1 27 1-10 1 28 1-9 1-9 1 27 1-46 1 42 1-38 1-6 1 11 1 15 1 2 1-13 1 16 1-21 1 8 1-22 1 21 1 25 1-3 1-27 1-2 1 13 1 6 1-1 1 0 1-13 1 22 1-31 1 27 1-23 1-1 1 15 1 21 1-45 1-8 1 31 1 24 1-50 1 10 1 11 1 27 1-13 1-28 1 34 1-3 1-12 1-3 1-34 1 40 1-10 1 8 1 9 1-4 1 10 1-21 1 6 1 1 1 23 1-53 1 19 1 19 1-1 1 3 1 1 1-10 1 2 1 35 1-35 1 4 1 22 1-55 1 19 1 9 1-8 1 6 1 8 1 1 1 1 1-22 1 23 1-18 1-11 1 38 1-17 1 19 1-12 1-2 1 5 1-15 1 31 1-25 1 26 1-19 1-11 1 6 1-14 1 0 1 31 1-21 1 12 1-15 1 31 1-25 1 14 1-2 1-5 1-5 1-26 1 3 1 28 1-8 1-4 1 16 1 2 1 3 1-8 1 4 1-31 1 40 1-10 1-23 1 16 1 32 1-37 1 10 1-6 1 27 1-45 1 38 1-33 1 22 1-11 1 5 1 3 1-26 1 5 1 9 1 22 1-9 1-7 1-10 1 30 1-15 1 1 1-1 1 5 1-2 1-13 1-9 1 58 1-49 1 19 1-20 1 15 1 7 1-53 1 54 1 5 1-17 1-6 1 7 1 5 1 39 1-70 1 50 1-34 1 27 1-24 1 3 1-8 1 23 1 3 1 9 1-21 1 12 1 31 1-37 1-6 1-9 1 3 1 0 1 11 1-11 1-1 1 31 1-42 1 39 1-13 1-39 1 45 1-21 1 13 1 11 1-38 1 26 1-13 1-9 1 5 1 18 1 9 1-11 1-29 1 26 1 14 1-9 1 1 1-13 1 12 1 9 1-20 1 11 1-5 1 0 1-17 1-4 1 36 1-39 1 45 1-13 1 0 1-27 1 24 1-14 1 38 1-24 1-3 1 4 1-13 1-10 1-2 1 6 1-22 1 19 1-30 1-24 1-59 1-49 1 15 1 44 1 27 1 37 1 33 1 21 1-17 1-5 1 21 1 13 1-44 1 11 1 11 1-1 1-32 1 10 1-47 1-42 1-170 1-221 1-172 1 41 1 99 1 160 1 150 1 105 1 77 1 32 1 25 1-10 1-31 1 7 1 22 1-24 1 19 1-37 1 3 1-67 1-60 1-91 1 10 1 25 1 48 1 66 1 71 1 1 1 23 1 24 1-12 1-18 1 33 1-16 1-22 1 28 1 30 1-18 1-16 1 4 1 4 1 22 1 2 1-32 1 9 1-15 1-4 1-7 1 14 1-46 1-14 1 4 1-29 1 0 1 2 1 6 1 41 1 9 1 15 1 8 1 17 1-16 1 11 1 15 1-11 1-20 1 1 1 15 1 13 1-8 1 29 1-42 1 17 1 15 1-7 1 16 1-23 1 12 1 9 1-36 1 16 1 12 1-16 1 8 1 6 1-20 1-7 1 21 1-23 1 14 1-14 1 16 1-4 1 12 1-17 1 34 1-26 1 18 1-20 1 5 1 15 1-8 1 0 1 15 1-32 1 21 1-22 1-2 1 8 1 17 1 1 1 6 1 0 1-10 1 4 1-12 1-5 1 21 1-23 1 28 1-38 1 3 1 4 1 12 1 16 1 6 1-23 1 23 1-23 1-2 1 16 1-16 1 11 1-7 1-3 1 12 1-5 1 6 1-12 1 15 1-28 1 18 1 17 1-15 1-1 1-12 1 7 1 4 1-14 1 41 1-21 1-4 1-9 1 13 1-15 1 22 1 4 1-24 1 6 1-2 1 14 1 10 1-11 1 2 1-8 1 4 1-13 1 17 1-29 1 22 1-2 1 7 1-24 1 30 1-17 1 10 1-3 1-12 1 17 1-32 1 26 1-1 1 4 1-7 1 7 1-18 1 14 1-2 1 7 1-10 1-19 1 16 1 18 1-5 1-2 1-4 1 9 1-13 1 15 1-31 1 36 1-6 1-27 1 9 1 5 1 20 1-16 1 7 1 8 1-12 1 10 1-19 1 16 1-8 1-3 1 17 1-10 1-2 1-24 1 30 1-9 1 20 1-33 1 21 1-9 1-7 1 8 1 0 1-2 1 0 1 12 1-9 1-3 1 7 1-9 1 1 1 2 1-2 1-1 1 8 1-13 1-2 1 32 1-38 1 4 1 6 1-15 1 25 1 8 1-50 1 29 1-26 1-23 1 12 1-50 1-90 1-184 1-281 1-261 1 19 1 148 1 135 1 105 1 179 1 152 1 92 1 16 1 19 1 15 1 13 1-1 1 18 1-10 1-11 1 9 1 5 1 9 1-16 1 38 1-27 1 8 1 4 1-1 1-9 1-7 1-5 1 6 1 8 1 7 1 3 1-14 1 4 1 15 1-4 1 6 1-13 1-12 1-1 1 17 1-4 1 11 1 2 1-5 1 4 1-12 1-3 1 14 1-10 1 21 1-20 1-16 1 8 1 8 1-11 1 11 1-4 1 7 1-11 1 21 1 0 1-22 1 9 1-15 1 19 1-12 1 31 1-5 1 11 1-39 1 6 1 3 1 4 1 10 1-18 1 10 1-2 1 3 1-16 1-4 1 15 1-2 1 24 1-23 1 6 1-11 1 7 1 1 1-9 1 5 1 9 1-23 1 17 1-15 1 28 1-14 1 8 1-24 1 15 1-1 1 13 1-5 1 4 1-4 1 0 1-11 1 17 1-3 1-3 1-20 1 15 1 2 1-14 1 17 1 0 1-4 1 5 1-18 1 8 1 0 1-3 1-2 1 10 1 2 1-13 1 10 1-12 1 10 1 2 1 5 1-11 1 6 1-3 1 0 1-8 1-2 1 1 1-22 1 8 1-10 1-5 1-34 1-34 1-104 1-179 1-167 1 29 1 125 1 39 1 26 1 92 1 120 1 42 1 38 1 24 1-5 1-3 1 17 1 3 1 1 1 8 1 5 1-21 1 3 1 2 1-12 1 15 1-11 1-9 1-6 1-18 1-39 1-101 1-204 1-199 1-22 1 136 1 76 1 11 1 69 1 129 1 92 1 54 1 35 1 2 1-10 1 17 1 12 1-10 1 9 1-1 1-15 1 11 1 6 1 4 1-2 1-17 1 14 1-4 1 16 1-16 1-1 1 5 1-5 1 4 1 8 1-8 1-9 1 10 1-2 1 16 1-9 1 4 1-5 1 15 1-20 1 2 1-1 1 2 1-1 1 6 1 9 1-6 1-8 1 0 1-3 1 4 1 12 1-12 1-10 1 16 1-3 1-3 1 9 1-6 1-7 1 10 1-6 1 1 1-6 1 10 1-3 1-3 1 16 1-19 1-7 1 7 1 3 1 3 1 12 1-2 1-8 1-2 1 1 1 0 1-8 1 2 1 5 1-2 1 20 1-19 1-2 1-15 1 25 1-15 1 3 1-3 1 4 1-8 1 13 1-9 1 21 1-12 1-7 1-3 1 11 1-3 1 0 1 6 1-18 1 17 1-9 1 29 1-19 1-1 1-23 1 17 1 4 1-1 1-19 1 17 1-6 1 9 1 2 1 1 1-1 1-16 1 11 1 4 1-3 1 2 1-7 1 3 1 2 1 7 1 1 1-10 1 6 1-14 1 13 1 12 1-21 1-7 1-4 1 4 1 13 1-5 1 14 1-15 1-11 1 9 1 2 1 7 1-7 1 4 1 8 1-32 1 23 1 1 1 5 1-5 1-1 1 2 1 6 1-17 1 16 1-22 1 5 1 13 1-2 1-3 1 0 1-9 1 4 1 9 1-3 1-5 1-6 1-4 1-21 1-19 1-36 1 18 1 31 1 4 1-16 1 8 1-13 1 28 1-2 1 8 1-28 1-30 1-98 1-113 1-92 1 16 1 103 1 46 1-7 1 14 1 66 1 75 1 22 1 19 1 13 1-12 1 22 1 9 1 0 1-5 1-8 1 9 1-4 1-4 1 4 1 17 1-14 1 3 1-7 1 3 1 5 1-16 1 18 1-1 1 5 1-4 1-5 1 3 1 2 1 7 1-7 1-1 1-1 1 0 1 5 1 2 1-1 1-17 1 8 1 1 1 6 1-4 1 9 1-15 1 19 1-21 1 6 1 2 1-4 1 4 1-3 1-7 1 11 1 4 1-17 1 4 1 8 1-8 1 0 1 4 1 6 1-9 1 12 1-3 1 5 1-1 1-13 1 19 1-19 1-8 1 8 1 8 1 5 1-5 1-9 1 3 1 8 1-9 1 4 1 1 1 10 1-17 1 16 1-13 1-1 1 2 1-12 1 2 1 19 1-3 1 10 1-27 1 11 1 5 1-12 1 14 1-13 1 9 1-2 1-4 1 3 1-8 1 17 1-15 1 4 1 4 1 8 1-6 1-9 1 11 1-1 1 4 1-11 1-8 1 15 1-9 1 7 1 11 1-20 1 7 1-1 1 10 1-13 1 16 1-19 1-5 1 11 1 8 1-15 1 7 1 6 1-22 1 16 1-1 1-4 1 0 1 5 1-18 1 22 1-10 1-11 1-4 1-3 1-24 1-54 1-69 1-58 1 48 1 55 1 11 1-2 1-14 1 28 1 41 1 34 1 10 1 11 1-16 1 3 1 25 1-19 1 14 1-3 1 2 1 2 1-11 1 10 1-19 1 12 1-3 1 5 1 3 1-4 1 23 1-16 1 4 1-7 1-27 1 19 1-11 1-3 1 2 1-27 1-30 1-66 1-24 1 44 1 32 1 19 1-27 1 4 1 25 1 33 1 4 1 18 1 10 1-11 1 7 1 0 1 6 1 5 1-4 1 2 1-7 1 1 1 11 1-8 1-11 1 16 1-6 1 1 1 5 1 6 1-10 1-10 1-4 1 21 1-3 1-12 1 23 1-25 1 9 1 5 1-2 1 5 1-8 1 24 1-16 1-4 1 4 1-14 1 4 1 7 1-6 1-8 1 16 1-2 1 1 1-9 1-2 1 5 1-1 1 2 1 5 1 7 1-8 1-3 1 3 1-6 1 3 1-3 1 2 1-5 1 11 1 1 1-7 1-4 1 5 1-3 1-2 1 6 1-7 1 10 1 0 1-12 1 11 1-9 1 5 1-2 1 6 1 0 1 1 1-6 1 5 1-1 1-7 1 7 1-5 1 1 1 8 1 10 1-13 1 1 1-16 1-1 1 11 1 8 1-2 1-3 1-1 1-6 1-7 1 12 1-3 1 15 1-13 1-6 1 6 1-20 1-11 1-33 1-74 1-89 1-23 1 76 1 45 1 35 1-13 1-22 1 20 1 34 1 46 1 6 1 15 1 7 1 3 1-6 1 1 1 3 1 1 1-1 1-1 1-7 1-10 1 4 1-17 1-27 1-21 1-16 1 38 1 9 1 11 1-10 1 5 1 13 1-11 1 35 1-2 1-10 1 18 1 10 1-15 1 4 1-6 1-2 1 8 1 12 1-11 1 9 1-7 1 0 1-2 1 9 1 3 1-16 1 11 1-2 1 5 1-2 1-14 1 17 1-3 1-3 1-1 1 5 1-3 1 12 1-24 1 13 1-5 1 8 1-3 1 3 1 0 1 2 1-9 1 4 1 5 1-13 1 5 1-5 1 4 1-2 1 12 1-9 1 0 1 4 1-8 1 7 1 5 1-11 1 3 1 5 1-9 1 20 1-8 1-12 1 6 1-7 1 13 1-2 1 1 1-7 1-2 1 7 1-1 1 9 1-10 1-6 1-1 1 1 1 9 1 0 1-4 1 4 1 2 1-8 1 8 1-7 1-4 1 25 1-10 1-2 1-8 1 3 1-2 1-2 1 5 1-3 1 9 1-8 1-4 1 16 1-9 1-6 1 5 1 8 1-8 1-8 1-4 1 7 1 2 1 6 1 1 1-11 1 9 1-3 1-8 1 11 1 0 1-5 1 0 1 0 1-2 1 10 1-1 1-10 1-1 1 4 1-4 1 4 1 3 1 11 1 3 1-15 1 2 1 4 1 1 1-10 1 2 1-7 1 18 1-11 1 1 1 0 1 8 1-20 1 18 1-8 1 1 1 4 1-2 1-13 1 11 1-11 1 20 1-9 1-10 1-6 1-12 1 13 1-32 1-52 1-56 1 11 1 34 1 51 1 18 1-5 1-22 1-19 1 28 1 38 1 9 1 5 1 2 1-1 1 14 1-14 1 25 1-21 1-5 1 10 1 5 1-4 1-5 1-3 1 15 1-13 1 12 1-9 1 0 1 7 1-11 1 2 1-3 1 7 1-1 1 4 1-7 1-2 1 11 1-12 1-1 1 13 1-3 1-10 1 5 1 4 1 2 1-9 1 16 1 1 1-12 1-1 1-2 1-10 1 18 1-5 1-1 1 7 1 7 1-7 1 6 1-15 1 9 1-2 1 4 1-7 1 3 1-8 1 7 1 2 1-2 1 2 1 2 1-9 1 12 1-11 1 11 1-13 1 3 1 14 1-9 1 5 1-15 1 17 1-4 1 1 1-11 1 3 1-1 1 2 1 6 1-11 1 11 1-5 1 13 1-11 1-3 1 4 1-4 1-1 1 8 1-3 1-9 1 22 1-20 1 0 1-5 1 1 1 8 1-6 1 2 1 7 1 9 1-10 1-10 1 13 1 2 1-3 1-14 1 15 1-3 1-2 1 2 1 5 1-7 1 6 1-2 1-9 1 0 1 11 1 5 1-14 1-1 1 8 1-5 1 3 1-2 1 9 1-6 1-5 1 5 1 4 1-3 1-6 1-4 1 13 1 7 1-16 1 1 1-1 1 7 1 1 1-2 1-5 1 7 1-2 1 1 1 0 1-2 1 0 1 12 1-22 1 5 1 3 1-5 1 8 1-8 1 3 1 8 1-11 1 4 1 5 1-7 1 6 1 14 1-12 1 0 1 1 1-10 1 11 1-2 1-2 1 2 1-9 1 2" fill="none" stroke="#0000ff" stroke-width="2.8" stroke-linejoin="miter" vector-effect="non-scaling-stroke"/>
<path transform="translate(89.200,0) scale(0.35344,0.1)" d="M0,7860l1 61 1 12 1-24 1-16 1 43 1-32 1 0 1 53 1-33 1-15 1 28 1-35 1 29 1 26 1-14 1-86 1 68 1-20 1-2 1 10 1-2 1 6 1 22 1-36 1 3 1 50 1-37 1-18 1 18 1-11 1 6 1 5 1-23 1 25 1-7 1-5 1 23 1 43 1-58 1 4 1-42 1 12 1 5 1 0 1 18 1-27 1-44 1 57 1 33 1-60 1 41 1-13 1-4 1-3 1 1 1 36 1 34 1-23 1-31 1 6 1-24 1 30 1-2 1 0 1-31 1 14 1-1 1 42 1-7 1 0 1-31 1 33 1-29 1-19 1-5 1 34 1-29 1-23 1 37 1-9 1 9 1-15 1 23 1 49 1-70 1 21 1 13 1-12 1 13 1-11 1-33 1 49 1 1 1-43 1 27 1-49 1 61 1 9 1-36 1 18 1 53 1-82 1 31 1-1 1 36 1-60 1 20 1-7 1-20 1 1 1 8 1 9 1-18 1 17 1-49 1 13 1-3 1-32 1-3 1 20 1-17 1 5 1-47 1-20 1 6 1-45 1-37 1-40 1-151 1-140 1-241 1-311 1-70 1 132 1 163 1 260 1 214 1 112 1 58 1 73 1 26 1 18 1-3 1 13 1 6 1 69 1-16 1-10 1 12 1-12 1 40 1-10 1 18 1-11 1 27 1-54 1 27 1 39 1-21 1-11 1-24 1 29 1 14 1 3 1-19 1 6 1 37 1 0 1-58 1 16 1 38 1-8 1 18 1-23 1 8 1-1 1-44 1 10 1 30 1 17 1 0 1-22 1-46 1 74 1-26 1 14 1-27 1 13 1-6 1 17 1 0 1-18 1 29 1 3 1-51 1 52 1-36 1 26 1-7 1-1 1-27 1 40 1-14 1-24 1 49 1-42 1-2 1 20 1-6 1-5 1-14 1 15 1 16 1-2 1 0 1 13 1-8 1 2 1 6 1-24 1 5 1 1 1-7 1 4 1 6 1 4 1 13 1-15 1 0 1-19 1 16 1 27 1-28 1 16 1-42 1 9 1 11 1-10 1 30 1 18 1-24 1 29 1-50 1 10 1 13 1 33 1-19 1-38 1 13 1 22 1 8 1-37 1 22 1 10 1-16 1 12 1-18 1-15 1 4 1 13 1 21 1-26 1 14 1-18 1 8 1 21 1-24 1 11 1 22 1-32 1 9 1-16 1 19 1 21 1-30 1 5 1-10 1 18 1-17 1 14 1 14 1-9 1 16 1 28 1-49 1-13 1 25 1-5 1-1 1-15 1 11 1 4 1 17 1-6 1 5 1-48 1 2 1 53 1-36 1 32 1-16 1-12 1 7 1 15 1 3 1-4 1 10 1-57 1 53 1-45 1 23 1-8 1 13 1-18 1 14 1-10 1 32 1 2 1-41 1 15 1 5 1 9 1 20 1-44 1 9 1 6 1 16 1-7 1-4 1 15 1-52 1 41 1-5 1-7 1-13 1 4 1 6 1 10 1-11 1 9 1 5 1-3 1-4 1-10 1 7 1 55 1-37 1 6 1 0 1-25 1 6 1 7 1-5 1 2 1 18 1-5 1 2 1 2 1-42 1 7 1-8 1 29 1 8 1 2 1 9 1-28 1 23 1-44 1 47 1-19 1 33 1-25 1-14 1 8 1 7 1-13 1 2 1-3 1-5 1 26 1-21 1-14 1 12 1 12 1-4 1 4 1-10 1 17 1-9 1-27 1 19 1 22 1-12 1-10 1 10 1-10 1 14 1 2 1-3 1 1 1-6 1 11 1-5 1 5 1-14 1-5 1-9 1 11 1 10 1 1 1 0 1 21 1-37 1-29 1 34 1 9 1-28 1 29 1-25 1-39 1-1 1-59 1-37 1-8 1-15 1 11 1 65 1 34 1 38 1-11 1 21 1 2 1-3 1 14 1 4 1-54 1 30 1-9 1 14 1-12 1-58 1-81 1-152 1-229 1-165 1 52 1 97 1 147 1 156 1 118 1 64 1 17 1 41 1 3 1 9 1-3 1-21 1 38 1-24 1 5 1-15 1-60 1-36 1-55 1-7 1 35 1 30 1 52 1 44 1 21 1 9 1 4 1 3 1 4 1 2 1-7 1-27 1 19 1-1 1-19 1 14 1 2 1 18 1-45 1 29 1 3 1 12 1-32 1-25 1 32 1-44 1-35 1-16 1 4 1-33 1-24 1 10 1 47 1 3 1 62 1-14 1 24 1-26 1 51 1 17 1-12 1 10 1-7 1-3 1 12 1-10 1 8 1 8 1-12 1 4 1-9 1 1 1-10 1 38 1-7 1-25 1 9 1 2 1-39 1 35 1 22 1-23 1 0 1 6 1 12 1 10 1-32 1 9 1-19 1 11 1-2 1 17 1-6 1-9 1 17 1-8 1 1 1 21 1 1 1-32 1 24 1-3 1-12 1 4 1-1 1 10 1-8 1 16 1-4 1-27 1 16 1 9 1 4 1-13 1-19 1 0 1 0 1 4 1 18 1-15 1 10 1-4 1 2 1-1 1-10 1 17 1-14 1 14 1-5 1-24 1 45 1-27 1 0 1 4 1 5 1-10 1 25 1-23 1 3 1-10 1 13 1-29 1 24 1 1 1 4 1-15 1 3 1-12 1 17 1 0 1 6 1 4 1-4 1 16 1-12 1 5 1-9 1-7 1 2 1 10 1-5 1-1 1-5 1 12 1-4 1-1 1-4 1 3 1 11 1 3 1-15 1 16 1-16 1-10 1 14 1-6 1-8 1 10 1-3 1-3 1 10 1-9 1 0 1 21 1-26 1 9 1-18 1 13 1 7 1-2 1-4 1 6 1-8 1 13 1-15 1 3 1 5 1 4 1-30 1 33 1-27 1 12 1 15 1-12 1 20 1-25 1-25 1 30 1-50 1-15 1-2 1-9 1-32 1 17 1 4 1 20 1 25 1 10 1 3 1 27 1-20 1-2 1 16 1-6 1 11 1-4 1-10 1 19 1-2 1-12 1 9 1 5 1-9 1 6 1-22 1 46 1-34 1 3 1 10 1 6 1-23 1 5 1-7 1-8 1 9 1-2 1-13 1 4 1-2 1-23 1-17 1-47 1-83 1-192 1-311 1-330 1 24 1 200 1 120 1 150 1 188 1 172 1 66 1 38 1 23 1 11 1 13 1 12 1 11 1-24 1 13 1 29 1-19 1 4 1-9 1 7 1-14 1 19 1 11 1-17 1 12 1-18 1 4 1 12 1-5 1-10 1 22 1 12 1-28 1 37 1-26 1-10 1-3 1-13 1 16 1-2 1 13 1-3 1 29 1-34 1 10 1 5 1-4 1-4 1 1 1 8 1-19 1 7 1 3 1 1 1 3 1-14 1 10 1 12 1-3 1-29 1 19 1-2 1-8 1 21 1-15 1-3 1 3 1 6 1-5 1 11 1-22 1 6 1 19 1 4 1 4 1-15 1-13 1 17 1 0 1-5 1 2 1-8 1 7 1-19 1 19 1-12 1 15 1-8 1-18 1 12 1 31 1-29 1-2 1 8 1-35 1 16 1 20 1-19 1 33 1-20 1 2 1-5 1-5 1 17 1 9 1-31 1 18 1-2 1 28 1-21 1-13 1 10 1 3 1-10 1 25 1-16 1-4 1 0 1-5 1-11 1 11 1 7 1 1 1 9 1-17 1 8 1-13 1-3 1 4 1 3 1-24 1 25 1-7 1-4 1 6 1-19 1 19 1-14 1-15 1-7 1-11 1-13 1-51 1-122 1-211 1-181 1 36 1 116 1 77 1 18 1 128 1 103 1 71 1 36 1 5 1-11 1 30 1-13 1 21 1-8 1 22 1-20 1-4 1-1 1 13 1 1 1-4 1-12 1 4 1-17 1-29 1-37 1-90 1-184 1-170 1-47 1 153 1 68 1-12 1 94 1 114 1 84 1 45 1 19 1 10 1-16 1 10 1 8 1 16 1 7 1-18 1 5 1 12 1 16 1-33 1 11 1 4 1-7 1 0 1-1 1-6 1 7 1 11 1-5 1-15 1 34 1-13 1 0 1-1 1 0 1-7 1 4 1-3 1-4 1-3 1 1 1 4 1 3 1-1 1 1 1 2 1 0 1-10 1 12 1-7 1-1 1-10 1 7 1-2 1 23 1-8 1-1 1-8 1 10 1-9 1 4 1-3 1-18 1 26 1-1 1-13 1 10 1-5 1-1 1 19 1-24 1 5 1 12 1-6 1-11 1 14 1-7 1 6 1-10 1 9 1-3 1-2 1 12 1-16 1 3 1 4 1 7 1-15 1 14 1-2 1-1 1-3 1-2 1 5 1-9 1 8 1 7 1-10 1 8 1-10 1-4 1 7 1-16 1 17 1-16 1 13 1 5 1 15 1-8 1-17 1-2 1 19 1-19 1 15 1-1 1-10 1 0 1 4 1 12 1-7 1-5 1 9 1-5 1-4 1 1 1-3 1 8 1-11 1 6 1-10 1 9 1 4 1-14 1 14 1 5 1-13 1 8 1 0 1 5 1-7 1-1 1-3 1-14 1 3 1 7 1 2 1-9 1 9 1-5 1 13 1 1 1 1 1 2 1-9 1 6 1-14 1 14 1-15 1 15 1 5 1-15 1-6 1 3 1 12 1-15 1 20 1 0 1-24 1 13 1 0 1-17 1 2 1 20 1-32 1-13 1-18 1-20 1 10 1 16 1 10 1-13 1 4 1 20 1-4 1 8 1-18 1-21 1-32 1-135 1-162 1-163 1 50 1 142 1 51 1-17 1 29 1 113 1 83 1 54 1 11 1 30 1-9 1-1 1 23 1 7 1 0 1-19 1 24 1-24 1 11 1 12 1-10 1-2 1 10 1-9 1-11 1 3 1 6 1 6 1 6 1-7 1-7 1 11 1-11 1 4 1 4 1 2 1-14 1 8 1 11 1-9 1 12 1-19 1-15 1 20 1 10 1-10 1-13 1 2 1 7 1-7 1 15 1-8 1 6 1 7 1-3 1-14 1 1 1 10 1-5 1-7 1 15 1-1 1 4 1-21 1 24 1-6 1 7 1-8 1-6 1 8 1 6 1-14 1-3 1-6 1-9 1 32 1-15 1 17 1-10 1 2 1 2 1 9 1-23 1 5 1 5 1 3 1-1 1-13 1 9 1 5 1-19 1 14 1-11 1 12 1 3 1 2 1-22 1 6 1 0 1 11 1-4 1 2 1 12 1-23 1 16 1-7 1 12 1-10 1-13 1 7 1 10 1-15 1 7 1-3 1 0 1-4 1-17 1-3 1-1 1-5 1-14 1 2 1 15 1-11 1 18 1-10 1 13 1 0 1 12 1 15 1 6 1-27 1 11 1 5 1-12 1 0 1 10 1-2 1 16 1-20 1 5 1 0 1 6 1-7 1 9 1-12 1-5 1-14 1-1 1-65 1-42 1-60 1 40 1 49 1 17 1-3 1 3 1 16 1 27 1 20 1 15 1 10 1-7 1 2 1 9 1-11 1 9 1 10 1-8 1-1 1 0 1-6 1 22 1-23 1 6 1-6 1 17 1-6 1-4 1-9 1 5 1 2 1 2 1-15 1 4 1 3 1-29 1-28 1-64 1-74 1-30 1 50 1 66 1 22 1-36 1 3 1 36 1 35 1 21 1 1 1 26 1 2 1-1 1 13 1-13 1 13 1-2 1 6 1-27 1 16 1-13 1 37 1-20 1 5 1-12 1 5 1 7 1-6 1-10 1 16 1 4 1-19 1 5 1-2 1 5 1 4 1 4 1 1 1-4 1-2 1-5 1 12 1 7 1-23 1 8 1-1 1 0 1-6 1 31 1-22 1 0 1 5 1-16 1 4 1 10 1 1 1-17 1 13 1 10 1-12 1 1 1 14 1-13 1 1 1 1 1-9 1 7 1 1 1-3 1-7 1 13 1-5 1-3 1 3 1 7 1-9 1 6 1-12 1 9 1-2 1-2 1 2 1-1 1-15 1 10 1 16 1-6 1 0 1-12 1 19 1-8 1-5 1-16 1 24 1 12 1-10 1 1 1 2 1-10 1 3 1-1 1-1 1 10 1-18 1-1 1 11 1-12 1 9 1-7 1 5 1-3 1-10 1-3 1-16 1-14 1-34 1-96 1-83 1-41 1 72 1 89 1 26 1-26 1-18 1 5 1 67 1 40 1 15 1 25 1-4 1 5 1-10 1 3 1 21 1-15 1-5 1 6 1-2 1-1 1-11 1-20 1-29 1-46 1-14 1 54 1 47 1-5 1-23 1-2 1 2 1 19 1 27 1 12 1-12 1 7 1-4 1 11 1 4 1-4 1-6 1 3 1 3 1 1 1 6 1 1 1-6 1-16 1 18 1-12 1 5 1 2 1-22 1 27 1 8 1-7 1-2 1-3 1 8 1-6 1-13 1 10 1-3 1 11 1 0 1-21 1 8 1 4 1 9 1-2 1-2 1-11 1 13 1 5 1-4 1-4 1 7 1-9 1 10 1-14 1-1 1 10 1-3 1-9 1 0 1 3 1 6 1-14 1 19 1 2 1 0 1-16 1 13 1-5 1 10 1-18 1 11 1 10 1-7 1 2 1-4 1-5 1 12 1-17 1 5 1 11 1-13 1-3 1 11 1 18 1-17 1 1 1 2 1-4 1 0 1-2 1-7 1 27 1-27 1 11 1-12 1 15 1-1 1-26 1 5 1 35 1-22 1 16 1-15 1-1 1-3 1 2 1 1 1 8 1-8 1 1 1-2 1-9 1 13 1-13 1 0 1 20 1-15 1 10 1-4 1-20 1 11 1-10 1 18 1-17 1 6 1-13 1-14 1-28 1-6 1-5 1-5 1 14 1-4 1 12 1 11 1-7 1 23 1-7 1 12 1 7 1 5 1 0 1 2 1 5 1 2 1-6 1 27 1-6 1-13 1 6 1-9 1 12 1-8 1 2 1-6 1 14 1-12 1 7 1-2 1-8 1-17 1-17 1-52 1-45 1-15 1 57 1 47 1 10 1-23 1-11 1-7 1 42 1 10 1 23 1 4 1-7 1 11 1 8 1-8 1-3 1-8 1 17 1-1 1-3 1-3 1 14 1-27 1 16 1 3 1-5 1 0 1 0 1 2 1 3 1-7 1 13 1-9 1 4 1 2 1-16 1 10 1 4 1 9 1-11 1-3 1 10 1-1 1-5 1 10 1-3 1-10 1 3 1 0 1 5 1-13 1 10 1 0 1-16 1 16 1 5 1-22 1 8 1-6 1 13 1-13 1 6 1 14 1 13 1-28 1 13 1-19 1 19 1-3 1-17 1 6 1-6 1 0 1-11 1-2 1 1 1-2 1 8 1-2 1-14 1 14 1-5 1 16 1 3 1-8 1-2 1 6 1 4 1 7 1-2 1 3 1-8 1 0 1 8 1 3 1 0 1 4 1-18 1 26 1-17 1 1 1 8 1-15 1 17 1 3 1-18 1 7 1 2 1 4 1-9 1-1 1 12 1-10 1-6 1 7 1 4 1-5 1 8 1 5 1-5 1 6 1-11 1 15 1-2 1-13 1 4 1-10 1 0 1-7 1 15 1 1 1 2 1-11 1 8 1-13 1 18 1-3 1-8 1 2 1 8 1-3 1 3 1-5 1-3 1-1 1 17 1-15 1 5 1 12 1-11 1 4 1-5 1 9 1-26 1 14 1-7 1 6 1 8 1 8 1-20 1 3 1 6 1-6 1 11 1-4 1-3 1-3 1-4 1 20 1-16 1 6 1 1 1 1 1-6 1 4 1 4 1 5 1-8 1-15 1-3 1 6 1 17 1-18 1 14" fill="none" stroke="#ff0000" stroke-width="2.8" stroke-linejoin="miter" vector-effect="non-scaling-stroke"/>
<path transform="translate(89.200,0) scale(0.35344,0.1)" d="M0,8785l1-2 1-11 1 19 1-29 1 18 1-50 1-1 1 103 1-34 1 4 1-29 1 14 1 9 1 30 1-40 1-28 1 44 1-32 1 11 1-3 1-18 1-2 1 12 1 37 1-69 1 16 1 26 1 22 1-28 1 11 1 19 1-52 1 55 1-44 1 35 1-12 1-5 1 34 1-30 1 17 1-30 1 22 1 0 1-16 1-2 1 34 1-14 1 10 1-28 1 13 1-15 1 28 1 3 1-24 1 2 1 34 1-66 1 30 1-21 1 25 1 7 1 10 1-41 1 34 1 27 1-66 1 0 1 20 1-2 1 2 1-4 1 31 1-29 1-13 1 28 1 10 1 22 1-40 1-11 1 25 1-9 1-12 1 29 1-21 1 1 1 36 1-27 1 10 1 5 1-20 1-22 1 14 1 15 1-14 1 22 1 9 1-16 1-5 1-19 1 38 1-41 1 10 1 11 1 8 1-17 1-6 1 9 1-19 1-7 1-28 1 44 1 16 1-32 1 13 1 29 1-16 1-13 1-25 1-11 1 9 1-7 1-39 1 7 1-25 1-53 1 10 1-7 1-115 1-46 1-166 1-244 1-205 1-55 1 72 1 207 1 197 1 151 1 129 1 52 1 20 1 45 1 12 1 64 1-36 1 17 1 24 1 14 1-16 1-29 1 61 1 3 1-19 1-3 1 50 1-41 1 12 1-9 1 18 1 3 1-15 1 45 1-24 1 38 1-36 1-10 1 5 1 16 1-9 1 26 1-31 1-1 1 7 1-12 1 0 1-18 1 38 1 15 1-21 1 7 1-16 1 8 1 8 1-28 1 35 1-20 1-3 1 41 1-4 1-34 1 2 1-2 1-6 1 8 1 8 1-6 1-6 1 0 1 20 1-21 1 14 1 2 1-19 1 3 1 36 1-37 1 20 1-6 1-3 1-6 1 26 1-34 1 49 1 4 1-34 1-8 1 11 1-16 1 3 1 7 1-1 1 8 1 7 1-8 1 18 1-26 1 25 1-8 1 14 1-33 1 24 1 2 1-28 1 23 1-28 1-7 1 76 1-42 1 0 1 4 1 0 1-6 1 19 1-36 1 20 1 3 1-9 1 2 1 0 1 17 1-9 1-28 1 12 1-2 1-5 1 22 1 16 1-22 1 37 1-29 1 2 1-5 1 8 1-14 1 8 1-29 1 31 1-5 1 11 1 25 1-58 1 24 1-8 1-21 1 18 1 3 1 39 1-34 1-1 1 2 1-23 1 8 1 15 1-4 1 16 1 10 1-15 1 7 1-19 1 0 1 18 1 1 1 8 1 9 1-36 1 8 1-2 1-16 1-5 1 39 1-22 1-1 1 31 1-14 1-3 1 21 1-18 1 0 1 13 1-18 1 5 1-35 1 21 1 8 1 5 1 0 1 0 1-23 1 23 1-6 1 3 1-9 1-1 1 4 1-9 1 6 1 5 1 20 1 2 1-31 1 29 1 12 1-34 1 18 1-16 1 9 1 1 1-14 1-2 1 20 1-6 1 0 1-7 1 6 1 4 1-16 1 32 1-30 1 14 1-27 1 34 1-13 1-2 1 12 1 7 1-7 1-14 1 18 1-23 1 15 1 8 1-4 1-7 1-2 1 3 1 27 1-28 1 3 1 15 1-10 1 18 1-12 1-20 1 0 1-13 1 24 1-2 1-10 1 7 1 2 1 2 1-4 1 1 1-6 1 23 1-7 1 11 1-22 1 3 1-14 1 14 1 1 1-3 1 4 1 6 1 5 1-22 1 13 1 13 1-1 1-9 1-11 1 22 1-5 1-23 1 38 1-19 1-24 1 18 1 9 1-18 1 0 1 1 1-25 1 26 1-20 1 0 1 12 1-4 1 3 1-6 1-38 1-53 1-79 1-20 1 2 1 21 1 56 1 60 1 30 1 13 1 13 1-8 1-1 1 12 1-3 1 1 1-16 1-2 1-8 1-19 1-69 1-45 1-191 1-247 1-223 1 13 1 150 1 181 1 187 1 150 1 58 1 36 1 22 1 14 1 1 1-11 1 30 1-31 1 14 1-25 1-26 1-51 1-84 1-59 1-16 1 29 1 41 1 87 1 46 1 69 1-14 1 27 1-15 1 5 1 3 1-7 1 1 1 13 1 13 1-13 1 12 1-7 1-12 1-7 1 10 1-2 1 3 1 10 1-11 1 2 1 9 1 3 1-10 1 17 1-18 1 10 1 0 1-3 1 11 1 4 1 0 1-28 1 3 1 23 1-12 1 3 1-8 1 6 1 4 1-10 1-5 1-2 1 18 1-11 1 9 1 6 1-3 1-19 1 17 1-12 1 15 1-15 1 5 1-2 1 10 1 10 1-43 1 11 1-1 1-7 1 33 1-7 1-6 1 10 1 5 1-11 1-1 1-11 1 15 1-1 1-8 1 4 1 6 1-6 1-14 1 18 1 2 1 9 1-1 1-17 1 4 1 1 1-4 1 8 1-9 1-8 1-4 1 38 1-33 1 4 1 13 1-12 1 5 1-2 1-26 1 19 1-5 1-11 1 30 1-7 1 12 1-23 1 23 1 7 1-17 1 5 1-6 1-3 1 10 1 6 1-18 1 7 1 5 1-14 1 7 1 1 1 6 1-12 1 3 1 9 1-10 1 15 1-37 1 30 1-11 1 10 1 8 1-9 1 3 1-3 1-5 1-7 1 6 1-9 1 6 1 12 1-13 1 14 1-15 1 16 1-7 1 3 1-14 1 11 1-9 1 13 1 1 1-6 1 0 1 7 1-17 1 20 1-6 1 4 1 10 1-11 1-11 1 2 1 15 1-18 1 6 1 4 1 2 1-9 1-3 1 15 1-14 1-11 1 23 1-3 1-15 1 18 1-1 1-5 1-3 1-4 1 2 1-4 1 11 1-4 1 0 1-19 1 8 1 15 1-5 1 1 1-4 1 13 1-16 1 6 1-7 1 17 1 3 1-5 1-8 1 12 1 5 1-18 1 10 1-2 1-11 1-12 1 13 1-17 1 11 1 4 1 1 1 3 1 5 1-8 1-7 1 4 1 8 1-22 1 9 1-3 1 9 1-4 1 5 1-6 1-4 1 3 1-9 1-32 1-4 1-20 1-19 1-94 1-189 1-302 1-286 1 36 1 144 1 99 1 154 1 205 1 143 1 86 1 55 1 20 1-3 1 0 1 0 1 12 1 8 1-10 1-5 1 10 1-1 1 5 1 9 1-5 1-7 1 14 1-13 1 4 1 10 1-2 1 0 1-18 1 18 1-16 1 21 1 3 1-18 1 24 1-19 1 3 1-5 1 7 1-8 1 16 1-1 1-14 1 18 1-11 1 13 1 2 1-14 1-4 1 8 1-12 1 18 1-18 1 13 1-3 1-1 1-3 1 5 1-15 1 4 1 7 1-6 1-2 1-6 1 23 1-17 1-11 1 15 1 2 1 14 1-24 1 11 1 15 1-23 1 17 1-9 1 11 1 6 1-18 1 5 1 3 1-15 1 11 1 7 1-3 1 7 1-12 1-12 1 7 1 28 1-26 1 2 1 17 1-14 1 9 1-17 1 11 1 1 1-7 1 1 1-4 1 11 1 1 1-2 1 1 1-6 1 4 1 10 1-11 1-1 1 16 1-27 1 3 1 29 1-28 1 6 1-10 1 6 1 3 1-1 1-18 1 21 1-15 1 6 1 2 1-3 1 1 1 11 1 3 1-17 1 7 1-6 1-1 1 3 1 6 1-12 1 3 1 1 1-16 1-13 1-7 1-28 1-63 1-123 1-238 1-174 1-14 1 163 1 64 1 41 1 109 1 126 1 82 1 56 1-2 1 3 1 22 1 7 1-13 1 2 1 5 1 0 1-1 1 4 1-10 1-8 1-3 1 11 1-16 1-9 1-34 1-58 1-109 1-239 1-237 1-55 1 168 1 92 1 42 1 100 1 143 1 126 1 46 1 10 1 20 1 9 1 7 1 5 1-3 1 13 1 4 1-13 1 16 1 1 1-11 1 14 1-16 1 10 1 12 1-25 1 9 1 4 1 9 1-22 1 10 1 2 1-1 1 9 1-5 1 0 1 5 1-5 1-13 1 18 1-1 1-12 1 20 1-14 1 5 1-4 1 5 1-11 1 15 1-13 1 4 1 15 1-23 1-1 1 2 1 11 1-3 1-19 1 23 1-15 1 7 1-4 1 15 1 8 1-22 1 7 1 6 1-13 1 4 1-1 1 3 1 15 1-16 1-13 1 14 1-5 1 11 1-4 1 6 1-18 1 4 1 2 1 16 1-11 1 2 1-4 1-2 1 5 1-7 1 8 1-11 1 15 1 7 1-15 1-1 1-4 1 12 1-1 1-4 1 12 1-7 1-5 1-5 1 10 1-6 1 3 1 9 1-1 1-3 1-6 1 0 1 3 1-3 1-5 1 8 1 1 1-6 1-1 1 5 1 2 1-1 1 7 1-7 1-5 1 11 1 10 1-15 1-1 1-12 1 18 1-11 1 9 1-9 1 8 1-2 1-5 1-2 1 0 1 2 1-14 1 12 1 6 1-13 1 10 1-5 1 11 1-7 1-8 1 11 1-5 1 2 1 0 1 10 1-21 1 8 1 0 1-8 1 4 1 10 1-13 1 3 1 7 1 12 1-11 1-13 1 15 1-15 1 3 1-2 1 12 1-6 1-2 1-3 1-4 1-17 1 2 1-39 1-17 1 16 1 32 1 1 1-13 1-6 1 11 1 15 1-8 1 0 1-27 1-24 1-111 1-164 1-133 1 21 1 130 1 90 1-45 1 35 1 80 1 84 1 43 1 26 1-2 1 18 1 8 1-8 1 9 1 5 1 3 1 5 1-11 1 10 1-3 1-2 1-1 1-4 1 9 1-5 1 2 1-11 1 7 1 4 1 1 1-15 1 9 1 9 1 5 1 3 1-10 1-3 1 9 1-11 1 9 1 0 1-8 1-3 1 13 1 3 1-7 1-10 1 15 1-11 1 1 1-3 1 0 1 12 1-5 1 8 1-7 1-5 1 17 1-9 1-9 1 12 1 4 1-17 1 2 1 6 1 0 1-8 1 11 1-7 1-5 1-4 1 18 1-3 1-4 1-6 1 8 1-5 1-7 1 13 1-11 1-3 1 20 1-14 1-3 1-11 1 14 1 3 1 17 1-18 1-2 1 18 1-15 1 8 1-8 1 2 1-5 1-6 1 8 1 2 1-16 1 24 1-9 1 9 1-14 1 7 1 5 1 3 1-19 1 4 1 6 1-7 1 11 1-1 1 0 1-9 1-5 1 12 1-2 1 5 1-20 1 21 1-4 1-12 1 15 1-15 1 4 1 6 1-9 1 18 1-9 1 5 1-10 1 6 1 2 1-4 1 10 1-20 1 13 1-4 1-16 1 5 1 3 1 7 1-10 1 4 1-7 1-1 1 4 1-40 1-58 1-71 1-35 1 28 1 50 1 28 1-19 1 8 1 22 1 42 1 30 1 7 1-2 1 9 1 9 1-6 1 1 1-11 1 18 1-3 1 4 1-22 1 35 1-14 1-3 1 2 1-3 1 15 1-7 1 0 1-20 1 5 1 4 1 6 1-9 1-10 1-1 1-8 1-25 1-70 1-61 1-31 1 50 1 48 1 23 1-27 1-3 1 50 1 24 1 27 1 20 1-8 1-3 1 10 1 9 1-6 1-2 1 4 1 9 1-10 1 8 1-5 1 6 1-9 1-4 1 1 1 12 1-11 1 5 1-11 1 15 1 0 1-1 1 4 1-2 1-13 1 7 1-7 1 2 1 18 1-15 1 2 1 5 1-2 1 3 1-11 1 7 1-3 1-1 1 4 1-12 1 20 1-17 1 11 1 3 1 5 1 5 1-19 1 0 1 12 1-11 1 0 1 2 1 6 1-1 1-6 1-4 1 7 1 7 1-3 1-1 1-12 1 5 1 6 1-6 1-1 1 6 1-1 1 18 1-13 1-1 1-13 1 10 1 5 1-2 1-7 1 5 1-9 1-4 1 14 1-4 1-6 1 8 1-4 1 2 1-2 1-3 1 12 1-7 1-3 1 12 1-16 1-5 1 7 1 0 1 4 1-4 1-3 1 5 1-1 1-15 1 2 1 1 1-5 1-7 1-21 1-43 1-83 1-117 1-50 1 88 1 96 1 29 1-29 1-27 1 24 1 74 1 35 1 16 1 19 1 5 1 13 1-11 1 5 1-4 1 13 1-9 1-6 1 4 1 4 1-9 1-22 1-14 1-32 1 1 1 6 1 45 1-3 1-4 1-8 1 10 1 16 1-1 1 15 1 9 1-5 1 6 1-8 1-8 1 12 1-8 1 0 1 4 1-10 1 7 1 19 1-23 1 17 1-5 1-7 1 7 1 0 1 0 1 1 1 7 1-15 1 8 1-2 1 3 1-5 1 0 1 12 1-9 1-8 1-7 1 22 1-16 1 9 1 6 1-3 1-10 1 4 1-1 1 3 1 10 1-9 1 6 1-5 1-2 1 4 1-14 1 19 1 1 1-2 1-16 1 13 1-5 1 7 1-17 1 12 1 4 1-12 1-3 1 16 1 0 1-9 1-4 1 8 1-5 1 6 1 7 1-5 1-3 1-5 1 7 1-7 1 14 1-10 1-4 1 5 1-5 1 10 1-8 1 4 1-10 1-1 1 4 1 16 1-5 1-12 1-4 1 5 1 14 1-7 1 5 1 0 1-8 1-4 1 9 1-2 1 1 1-7 1-1 1 9 1-2 1 5 1-4 1-8 1 15 1-16 1 10 1-9 1 6 1-7 1 0 1 8 1 8 1-8 1 2 1-6 1 9 1-13 1 13 1-10 1 8 1 0 1 0 1-9 1 4 1 9 1-3 1-10 1 18 1-4 1-14 1 4 1-4 1 11 1-18 1 19 1-10 1 13 1-22 1 25 1-8 1-2 1-5 1 5 1-6 1-2 1 13 1-11 1-5 1-5 1 11 1-6 1-11 1-37 1-55 1-51 1-1 1 58 1 38 1 16 1-3 1-42 1 5 1 19 1 40 1 20 1 8 1-2 1 7 1-13 1 15 1-4 1 6 1-8 1 1 1-1 1 5 1-1 1-14 1 10 1 9 1-5 1 4 1-6 1-2 1 10 1-11 1 2 1 4 1 3 1-5 1 5 1 7 1-8 1 5 1-12 1 10 1-7 1 6 1 4 1-15 1 6 1 7 1 2 1 3 1-9 1 7 1 5 1-13 1 11 1-9 1-3 1 1 1 9 1-12 1 3 1 5 1-1 1-11 1 5 1-4 1 6 1-3 1 11 1-5 1 1 1 1 1 1 1-2 1-10 1 9 1-11 1 18 1 2 1-25 1 23 1-11 1-6 1 6 1-7 1 18 1-7 1-8 1 10 1-3 1-5 1 10 1-7 1-1 1-4 1-1 1 13 1-6 1 0 1 5 1-6 1-13 1 13 1-8 1 10 1-5 1 10 1-5 1 7 1 12 1-23 1-1 1 5 1-3 1 8 1-18 1 12 1 8 1-13 1 9 1-11 1 11 1-5 1 8 1-9 1-4 1 3 1 2 1 11 1-13 1 1 1 1 1-2 1 4 1 4 1-8 1 7 1-5 1-1 1 1 1 0 1 0 1 0 1 9 1-2 1-8 1-2 1 6 1-9 1 10 1 1 1 6 1-10 1 6 1 1 1-1 1-4 1 8 1-12 1 5 1 4 1-9 1 2 1 0 1 5 1-8 1 10 1-5 1-12 1 13 1 1 1-6 1 4 1-1 1 4 1-10 1 2 1 7 1 6 1-6 1 2 1-5 1 1 1 1 1-7" fill="none" stroke="#000000" stroke-width="2.8" stroke-linejoin="miter" vector-effect="non-scaling-stroke"/>
</g>
<g clip-path="url(#cr)">
<path transform="translate(772.800,0) scale(0.56000,0.1)" d="M0,762l1 72 1 59 1 56 1 33 1 45 1 19 1 28 1 11 1 14 1 12 1 21 1 1 1 17 1-6 1 8 1 3 1 1 1 5 1-12 1 19 1-2 1 0 1 3 1 3 1-6 1 0 1 1 1-5 1 7 1-5 1-2 1 0 1 3 1-2 1 8 1-5 1-9 1 5 1-4 1 1 1-3 1-1 1-3 1-6 1-4 1-1 1-8 1 0 1-9 1-8 1-21 1-10 1-18 1-24 1-31 1-29 1-36 1-21 1-29 1-7 1-1 1 6 1 20 1 21 1 11 1 18 1 5 1 9 1 5 1 2 1 14 1 16 1 23 1 8 1 32 1 6 1 17 1 13 1 13 1 7 1-5 1 15 1 3 1-4 1 9 1 3 1 0 1 7 1-2 1 1 1 9 1-10 1-4 1 8 1 2 1-6 1 8 1 4 1-11 1 9 1 8 1-4 1-5 1-5 1 7 1-3 1-2 1 0 1 4 1-7 1 5 1-3 1 6 1 4 1-9 1-2 1 4 1-1 1 3 1 2 1 0 1-2 1-2 1-1 1 7 1-4 1 2 1-4 1 5 1-1 1-11 1 5 1 3 1 0 1 0 1 2 1 1 1-10 1 10 1 2 1-1 1-7 1-6 1 18 1-6 1-7 1 4 1 0 1 3 1-2 1-2 1 0 1 0 1-2 1 2 1-2 1-7 1 12 1-5 1 3 1 0 1-9 1 4 1 7 1-4 1-1 1-9 1 11 1-7 1 1 1 4 1 0 1-6 1 4 1-2 1 4 1 1 1-2 1-4 1-2 1 6 1-4 1-2 1 5 1-1 1 4 1-7 1 3 1 6 1 0 1-1 1 1 1 0 1 2 1-3 1-4 1 6 1-6 1 5 1 1 1 4 1-5 1 6 1-9 1 3 1 7 1 0 1 0 1-6 1-4 1 7 1 3 1 3 1-1 1 4 1-5 1 3 1-12 1 15 1-9 1 6 1-5 1 8 1-9 1 2 1-3 1 15 1-12 1 1 1 7 1-4 1-3 1 3 1-4 1 6 1 1 1 5 1 9 1-22 1 10 1-9 1 7 1 3 1 4 1 0 1-11 1 4 1 5 1-2 1 1 1 2 1-9 1 8 1-4 1 4 1-6 1 4 1 5 1-6 1-2 1 12 1-3 1-4 1-5 1 1 1 3 1-3 1-1 1 9 1-6 1 3 1 0 1-3 1 3 1-6 1 4 1-2 1 1 1 0 1 2 1-3 1 4 1 2 1 3 1-2 1-12 1 8 1 0 1 0 1 0 1-4 1-5 1 7 1 1 1 6 1-2 1-7 1 7 1 3 1-1 1-4 1 7 1-5 1 3 1-8 1 6 1-1 1 1 1-1 1-3 1 2 1-3 1 2 1-1 1-1 1 9 1-1 1-5 1 1 1 2 1 6 1-6 1-1 1 9 1-6 1-13 1 8 1 2 1-3 1 8 1-3 1 4 1-1 1-1 1-5 1 6 1-10 1 5 1 0 1 4 1 7 1-10 1-5 1 7 1 1 1-6 1 7 1 6 1-16 1 4 1 8 1-1 1-5 1 5 1-3 1-11 1 8 1-1 1 7 1 2 1-1 1-3 1 4 1-8 1 3 1 5 1-2 1-6 1 5 1-4 1 2 1 9 1-14 1 8 1-4 1 11 1-6 1-6 1 0 1 7 1-6 1 5 1-5 1-1 1 3 1-2 1-1 1 10 1-10 1 2 1-2 1 0 1 7 1 4 1-7 1-3 1 5 1 5 1-7 1-4" fill="none" stroke="#960000" stroke-width="3.0" stroke-linejoin="miter" vector-effect="non-scaling-stroke"/>
<path transform="translate(772.800,0) scale(0.56000,0.1)" d="M0,2035l1 9 1 14 1 16 1 7 1 5 1-2 1 5 1 5 1-2 1 1 1 6 1-6 1 1 1 6 1 5 1-8 1 9 1-3 1-3 1-4 1 4 1 0 1-5 1 0 1 7 1-3 1-2 1 2 1-5 1 1 1 1 1-6 1 3 1-4 1 1 1-7 1 2 1-6 1-5 1 2 1-5 1-2 1-6 1-24 1 2 1-18 1-14 1-18 1-22 1-36 1-34 1-28 1-23 1-32 1-14 1 6 1 1 1 19 1 26 1 6 1 18 1 7 1 12 1 2 1 14 1 12 1 3 1 30 1 22 1 13 1 25 1 10 1 6 1 10 1 12 1 4 1 6 1 6 1 11 1-5 1 5 1 4 1 3 1-8 1 1 1 5 1 1 1 0 1 3 1 1 1-1 1 4 1-1 1-8 1 9 1 3 1-1 1-7 1 9 1-3 1-9 1 7 1 8 1-8 1-1 1 5 1-7 1-1 1 6 1 4 1-3 1 5 1-3 1-4 1 4 1 2 1-2 1-1 1 4 1-4 1 3 1-2 1 1 1-8 1 10 1-6 1-1 1-8 1 4 1 3 1-1 1 3 1 2 1 4 1-14 1 8 1-11 1 4 1 5 1-3 1-1 1 5 1-4 1-2 1 0 1-1 1 0 1-1 1-2 1 4 1-9 1-1 1-1 1 10 1-3 1-6 1 6 1-5 1-4 1 15 1-22 1-1 1 11 1-4 1-2 1-2 1-1 1 1 1-3 1-1 1 1 1-4 1 8 1-17 1 5 1-1 1 7 1 0 1-5 1-3 1-5 1 6 1-2 1 0 1 5 1 6 1-14 1 1 1 7 1 0 1-4 1 7 1-7 1 0 1 0 1 7 1-6 1 8 1 0 1-4 1 9 1-3 1 1 1-6 1 5 1 4 1-8 1 8 1-1 1 4 1-2 1-4 1 2 1 1 1 4 1 0 1 6 1-2 1 2 1 4 1-1 1 1 1-3 1 0 1 8 1 0 1-6 1 1 1 6 1 0 1 5 1-5 1 5 1 7 1-3 1-9 1 9 1 8 1-9 1 7 1-10 1 3 1 14 1-4 1-4 1 2 1 0 1 3 1 1 1-5 1 8 1-3 1-8 1 7 1 1 1 4 1-8 1 8 1 2 1-5 1 4 1-6 1 0 1 11 1 1 1-1 1 0 1-7 1 6 1 3 1-14 1 17 1-2 1-4 1 9 1-3 1-4 1-7 1 6 1 6 1-5 1-9 1 6 1 2 1-5 1 8 1-2 1 10 1-15 1 2 1 6 1-2 1-1 1-2 1 5 1 1 1-8 1 11 1-5 1 4 1-6 1-5 1 4 1-1 1 8 1 5 1-6 1-6 1 7 1 3 1-7 1 3 1 8 1-11 1 5 1 2 1-8 1 0 1 2 1-1 1 8 1-3 1-4 1 13 1-2 1-12 1-2 1 0 1 9 1-11 1 11 1-2 1 1 1-1 1-5 1-6 1 12 1-3 1 8 1-8 1 6 1-7 1 5 1 0 1-7 1 8 1 5 1-8 1 3 1-1 1-3 1-4 1-1 1 12 1-5 1-8 1 13 1-1 1 3 1-5 1 4 1-1 1 3 1-11 1 5 1-4 1 0 1 6 1-7 1 3 1 5 1-2 1-4 1 10 1-5 1-3 1 4 1 2 1-13 1 19 1-12 1 0 1-1 1 5 1-7 1 8 1 3 1-2 1-2 1 0 1-7 1 16 1-11 1-2 1 10 1-5 1 2 1 2 1-14 1 19" fill="none" stroke="#960088" stroke-width="3.0" stroke-linejoin="miter" vector-effect="non-scaling-stroke"/>
<path transform="translate(772.800,0) scale(0.56000,0.1)" d="M0,3045l1 20 1 15 1 4 1 13 1 0 1 8 1 10 1 3 1 3 1 12 1-10 1 5 1 3 1-6 1 2 1 3 1-1 1 3 1-1 1-5 1 3 1 3 1-4 1 3 1 1 1-1 1-5 1 1 1 0 1-2 1 3 1-1 1 3 1-18 1 11 1-4 1 2 1-3 1 5 1-12 1-6 1-3 1-7 1-4 1-4 1-6 1-16 1-17 1-25 1-8 1-31 1-34 1-26 1-40 1-40 1-24 1-13 1 0 1 17 1 20 1 21 1 18 1 8 1 16 1-2 1 11 1 10 1 17 1 18 1 26 1 24 1 16 1 17 1 18 1 10 1 7 1 9 1 11 1 2 1 4 1 6 1 8 1 4 1-11 1 10 1-4 1 14 1-3 1 5 1-9 1 1 1 9 1-5 1-5 1 6 1-7 1 7 1 6 1-5 1 12 1-3 1-12 1 0 1-1 1 2 1 2 1 4 1-1 1-3 1 3 1 5 1-1 1 1 1-10 1 2 1 4 1 3 1-10 1 13 1-8 1-2 1 1 1-2 1 6 1-3 1 7 1-6 1 0 1 2 1 0 1-7 1 13 1-14 1 15 1-7 1 2 1-3 1-3 1 7 1-13 1 12 1-7 1-3 1 1 1 1 1 1 1 2 1-1 1 0 1 3 1-2 1-4 1-9 1 10 1-4 1 11 1-5 1-2 1-7 1 5 1 4 1-4 1-2 1 5 1 2 1-10 1 0 1 5 1-2 1-5 1-1 1 5 1 0 1 1 1-1 1 4 1-6 1 0 1-7 1 18 1-16 1-3 1 3 1 8 1 0 1-4 1-3 1 2 1-4 1 0 1 1 1 5 1-3 1 2 1-1 1-4 1-4 1 1 1 2 1 6 1-3 1-3 1 3 1 1 1-6 1-3 1 9 1-8 1 5 1 7 1-11 1-2 1 7 1-1 1 0 1-2 1 8 1-1 1-5 1 2 1-6 1 1 1 4 1 5 1-1 1 6 1-12 1 14 1 1 1-13 1 9 1 0 1-7 1 5 1-7 1 11 1 0 1 1 1-4 1-2 1 0 1-4 1 3 1 9 1 0 1-4 1-2 1 3 1 1 1-4 1 9 1-1 1-5 1 12 1 1 1-3 1-2 1 0 1-6 1 6 1 12 1-16 1 2 1 1 1 2 1 11 1 1 1-15 1 3 1 12 1-5 1 3 1-9 1 17 1-14 1 7 1-1 1 0 1 4 1-3 1 12 1-11 1 1 1-3 1 4 1-10 1 6 1-1 1 4 1-2 1 4 1-10 1 21 1-15 1 6 1 1 1 7 1-3 1-1 1-8 1 3 1 2 1 3 1-3 1-1 1 4 1 2 1 0 1 0 1-12 1 16 1-10 1 9 1-4 1 1 1 6 1-2 1-4 1 0 1 6 1-3 1 0 1-1 1 0 1-3 1 13 1-7 1-2 1 4 1-5 1 6 1 7 1-11 1-6 1 10 1-6 1 5 1-7 1 10 1-1 1-2 1-3 1 1 1-5 1 7 1 8 1-10 1 5 1-2 1-3 1 4 1-7 1 2 1 2 1-1 1 5 1-3 1-1 1 0 1 1 1-1 1-1 1 5 1-3 1-5 1 16 1-9 1-7 1 9 1 5 1-8 1 1 1 2 1 0 1-4 1 8 1-7 1 7 1-6 1-3 1 1 1 1 1-3 1 6 1-11 1 6 1 10 1-2 1-4 1-3 1-4 1 16 1-5 1-2 1-1 1 5 1 1 1-4 1-3 1-3" fill="none" stroke="#9600ff" stroke-width="3.0" stroke-linejoin="miter" vector-effect="non-scaling-stroke"/>
<path transform="translate(772.800,0) scale(0.56000,0.1)" d="M0,3925l1 52 1 26 1 28 1 25 1 18 1 14 1 24 1 13 1 7 1-2 1 14 1 4 1 9 1 1 1 3 1-5 1 7 1 0 1-4 1-2 1 15 1-9 1-2 1-1 1 4 1-2 1-1 1 5 1-9 1 6 1-3 1-2 1 5 1-5 1-11 1 12 1-1 1-3 1 1 1-7 1-6 1-7 1 2 1-1 1-8 1-8 1-10 1-6 1-9 1-15 1-28 1-29 1-23 1-35 1-56 1-43 1-32 1-31 1-18 1 7 1 13 1 26 1 20 1 25 1 18 1 8 1 7 1 12 1 6 1 18 1 25 1 16 1 44 1 18 1 22 1 19 1 16 1 6 1 13 1 12 1-2 1 12 1 3 1 0 1 7 1-2 1 1 1 2 1 17 1-7 1 9 1-8 1-6 1 5 1 8 1-7 1 7 1-6 1 2 1 5 1 6 1-7 1 1 1-2 1-5 1 6 1-1 1 3 1-1 1 4 1-2 1 4 1-7 1-2 1 6 1-6 1 12 1-3 1 4 1-6 1-3 1 4 1-2 1-1 1-2 1 3 1 2 1-4 1 5 1 1 1 7 1-4 1-8 1 10 1 0 1-2 1 0 1 2 1 1 1 0 1-1 1-5 1 2 1 1 1-1 1-1 1-2 1 2 1 0 1-1 1 6 1-2 1-1 1 0 1-7 1 6 1 0 1 1 1 0 1-5 1 10 1-4 1-12 1 14 1-10 1 8 1 3 1-16 1 17 1-1 1-15 1 11 1-8 1 11 1-18 1 15 1-4 1 2 1-2 1-1 1 6 1 3 1-6 1-4 1-1 1 2 1-1 1 6 1 0 1-4 1 9 1-9 1 10 1-9 1 3 1 16 1-12 1 0 1-9 1 5 1-8 1 3 1 5 1 1 1 1 1-1 1 2 1-1 1-5 1-3 1-2 1 9 1-5 1 5 1 4 1 7 1-5 1-10 1-3 1-5 1 3 1 12 1-1 1-10 1 8 1 7 1-3 1-9 1 7 1-1 1-4 1 7 1 0 1-11 1-6 1 13 1-2 1 3 1-3 1 1 1 5 1-11 1 8 1-3 1 5 1-10 1 9 1-3 1 2 1-8 1 2 1 7 1 8 1-2 1-5 1 1 1-11 1-6 1 8 1 1 1 2 1 1 1-3 1 1 1 4 1-4 1 2 1 2 1 0 1 0 1 0 1 0 1-8 1-1 1 11 1-3 1 6 1-4 1-9 1 10 1 0 1 0 1-1 1-4 1 2 1-6 1 4 1 2 1-4 1 3 1 5 1-2 1-7 1 4 1 0 1 1 1 0 1-3 1 4 1 9 1-4 1-1 1-9 1 1 1 4 1 3 1-5 1 0 1-7 1 4 1 7 1-5 1 6 1 4 1-6 1 3 1-1 1 0 1-3 1 3 1-1 1 1 1-3 1 9 1-9 1-1 1-1 1 4 1-8 1 8 1-2 1 5 1 0 1 2 1-2 1 1 1-2 1-8 1 2 1 3 1-7 1 7 1 0 1-3 1 5 1 6 1-15 1 8 1-1 1-4 1-9 1 14 1-3 1 3 1 1 1-1 1-5 1-1 1 3 1-5 1 5 1 9 1-10 1-3 1 8 1 4 1-12 1-6 1 16 1-7 1 0 1 7 1-5 1 6 1-8 1 2 1-1 1-3 1 8 1-4 1 0 1-6 1 14 1-4 1 2 1-2 1-6 1 1 1 5 1-5 1 6 1-4 1 7 1-6 1-5 1 0 1 4 1-3 1 5 1-2" fill="none" stroke="#000088" stroke-width="3.0" stroke-linejoin="miter" vector-effect="non-scaling-stroke"/>
<path transform="translate(772.800,0) scale(0.56000,0.1)" d="M0,5123l1 18 1 21 1 5 1 5 1 7 1 6 1 11 1 3 1 3 1 8 1 2 1-8 1 6 1 4 1-8 1 6 1 1 1 3 1-9 1 7 1-6 1 3 1 1 1 0 1 5 1-11 1 3 1 2 1 2 1-1 1-5 1-4 1 5 1-4 1 3 1-16 1 9 1 2 1 0 1-15 1 0 1-5 1-2 1-1 1-11 1-7 1-10 1-18 1-19 1-26 1-24 1-30 1-40 1-26 1-29 1-31 1-9 1-3 1 17 1 8 1 26 1 18 1 18 1 2 1 9 1 3 1 14 1 9 1 30 1 22 1 20 1 13 1 17 1 20 1 17 1 12 1 6 1-5 1 14 1 7 1 4 1-4 1 9 1 1 1 3 1-8 1 11 1 3 1-7 1 10 1-1 1-7 1 9 1-2 1-4 1 5 1-2 1 9 1-6 1 8 1-5 1-3 1 7 1-2 1-5 1 8 1 4 1-2 1-6 1 1 1 4 1-11 1 2 1 7 1 2 1 3 1-1 1-6 1 8 1-2 1-2 1-5 1 9 1-1 1-3 1 0 1-4 1-2 1 3 1 2 1 7 1-11 1 8 1-2 1-4 1 1 1-8 1 9 1-3 1-2 1-3 1 9 1-10 1 0 1-1 1-1 1 7 1-7 1-4 1 8 1-10 1 3 1-2 1 1 1-3 1-7 1 3 1-4 1 2 1-7 1-1 1-9 1-4 1-13 1 0 1-20 1-9 1-18 1-15 1-31 1-32 1-25 1-43 1-32 1-23 1-20 1 6 1 17 1 16 1 22 1 14 1 17 1 9 1 7 1-7 1 11 1 7 1 22 1 27 1 19 1 11 1 21 1 18 1 11 1 14 1 5 1 3 1 7 1 9 1-6 1 7 1 3 1 4 1-4 1 2 1 10 1-6 1 1 1-2 1-2 1 8 1 3 1 2 1-5 1 0 1 6 1-12 1 13 1 3 1-7 1-7 1 4 1 0 1 12 1-3 1 2 1 2 1-5 1 3 1-3 1 1 1-3 1 0 1 0 1 5 1 5 1-5 1 3 1-9 1 1 1 5 1-5 1 8 1-3 1 6 1-8 1 1 1 7 1-9 1 1 1 1 1 11 1-4 1-2 1-1 1 3 1-9 1 6 1 5 1-2 1 3 1-14 1 4 1 8 1 6 1-4 1-3 1 2 1-3 1 10 1 1 1-8 1 3 1-9 1 9 1 3 1-4 1 4 1-3 1-6 1 6 1 5 1-3 1-5 1 5 1-4 1-1 1 6 1-5 1-2 1 3 1 0 1 4 1-2 1-4 1 1 1 3 1-9 1 15 1-8 1 5 1 1 1-8 1 5 1 5 1 0 1-1 1-3 1 2 1 0 1-2 1-2 1 3 1-7 1 4 1 7 1-3 1-2 1 8 1-5 1-5 1 10 1-11 1 6 1-4 1 6 1 7 1-5 1-7 1 1 1-1 1 7 1-3 1-3 1 9 1-1 1 1 1-10 1 6 1 1 1 9 1-13 1 8 1-3 1 1 1-1 1-3 1 3 1 6 1-6 1-5 1 3 1 1 1 6 1-3 1-3 1 3 1-6 1-2 1 9 1 8 1 3 1-11 1 2 1-1 1 0 1-1 1 0 1 3 1-5 1-3 1 13 1-4 1-3 1 6 1-3 1 0 1-2 1-7 1 6 1 4 1-5 1-4 1 3 1 7 1 1 1-3 1 3 1-1 1 9 1-11 1 6 1 0 1-3 1 1 1-1 1-4 1 2 1-11 1 16" fill="none" stroke="#008000" stroke-width="3.0" stroke-linejoin="miter" vector-effect="non-scaling-stroke"/>
<path transform="translate(772.800,0) scale(0.56000,0.1)" d="M0,5934l1 41 1 43 1 14 1 23 1 25 1 11 1 13 1 4 1 17 1 4 1 9 1 0 1 7 1 10 1-3 1 5 1-10 1 4 1 2 1 0 1 0 1 4 1-4 1-4 1 8 1 1 1-10 1 4 1-6 1 3 1 4 1-8 1 0 1 14 1-12 1 0 1-1 1-4 1 4 1-1 1-6 1 0 1 6 1-11 1 4 1-14 1 2 1-10 1-5 1-11 1-27 1-7 1-22 1-28 1-27 1-24 1-34 1-29 1-27 1-15 1-5 1 17 1 16 1 26 1 13 1 5 1 18 1 2 1 4 1 16 1 10 1 11 1 29 1 14 1 25 1 15 1 13 1 16 1 9 1 6 1 8 1 3 1 7 1-1 1 9 1 3 1-5 1 0 1 8 1-1 1 0 1 1 1 8 1-4 1 0 1 7 1-11 1 4 1-2 1 3 1 1 1 5 1 2 1-3 1 9 1-13 1 3 1 5 1 0 1-1 1-1 1 6 1 1 1-11 1 8 1-3 1-5 1 8 1-7 1 3 1 0 1 9 1-3 1-2 1-6 1 6 1 0 1-4 1-7 1 6 1 1 1 2 1 4 1-7 1 6 1 6 1-9 1-6 1 7 1-4 1-2 1-3 1 3 1 2 1-4 1 3 1-5 1 2 1-3 1 5 1-6 1-1 1 2 1 3 1 0 1-1 1-11 1 1 1-3 1-5 1 1 1-1 1-11 1 7 1-8 1-18 1 0 1-13 1-17 1-18 1-26 1-28 1-22 1-58 1-42 1-45 1-37 1-45 1-11 1-6 1 16 1 30 1 26 1 34 1 28 1-1 1 1 1 9 1 18 1 5 1 27 1 26 1 31 1 25 1 30 1 19 1 9 1 14 1 22 1 8 1 3 1 8 1-4 1 14 1 9 1 1 1-9 1 8 1 2 1 6 1 0 1-3 1 4 1-2 1 7 1-4 1-4 1 3 1 5 1 1 1 3 1-5 1 7 1-8 1 1 1 1 1-6 1 1 1 4 1 5 1 5 1-7 1 5 1 1 1 1 1-4 1-5 1 9 1-4 1-1 1-3 1 14 1-7 1 4 1-4 1 5 1 1 1-13 1 8 1 3 1-8 1 6 1 9 1-12 1 6 1-6 1 3 1-3 1-2 1 7 1 9 1-3 1-5 1 0 1-3 1-1 1 1 1 6 1 0 1 3 1 4 1-2 1-5 1 0 1-10 1 14 1-5 1 4 1-1 1-1 1 3 1 0 1-5 1-5 1 9 1-4 1 6 1 3 1-6 1 12 1-5 1-11 1-2 1 7 1 3 1-6 1 0 1 1 1 2 1 3 1-6 1 1 1 5 1-7 1 5 1-1 1 9 1-7 1 3 1-2 1 0 1-2 1 5 1 0 1-5 1 6 1-4 1-5 1 8 1 6 1-4 1 2 1-2 1-7 1 10 1-3 1-2 1-1 1-2 1 1 1 4 1 0 1 3 1-9 1 5 1-8 1 7 1 8 1-11 1 5 1-1 1-1 1 6 1-7 1 4 1-6 1 9 1 1 1-8 1 6 1-2 1-4 1 5 1 3 1-4 1 0 1 0 1 2 1 2 1-3 1 0 1-1 1-8 1 10 1-1 1-2 1 4 1 4 1-1 1 0 1-5 1-1 1-1 1-1 1 3 1-3 1 2 1 0 1 2 1-5 1-4 1 18 1-8 1-2 1 5 1-1 1 2 1-2 1 1 1-6 1 6 1 3 1-7 1 6 1-5 1-5 1 12 1-9 1 0 1 10" fill="none" stroke="#ff00ff" stroke-width="3.0" stroke-linejoin="miter" vector-effect="non-scaling-stroke"/>
<path transform="translate(772.800,0) scale(0.56000,0.1)" d="M0,6918l1 17 1 24 1 15 1 8 1 11 1 6 1 8 1 6 1 8 1-7 1 11 1-3 1 0 1 10 1-5 1 0 1 2 1-5 1 5 1 3 1-5 1-3 1 8 1 2 1-8 1 1 1 7 1 1 1-3 1-4 1-4 1-5 1-3 1 1 1 5 1-9 1 1 1 7 1-14 1 6 1-3 1-3 1-6 1-11 1-11 1-4 1-17 1-24 1-11 1-34 1-25 1-47 1-38 1-44 1-35 1-42 1-13 1-8 1 30 1 25 1 22 1 22 1 15 1 16 1 9 1 3 1 12 1 16 1 24 1 16 1 37 1 27 1 20 1 19 1 19 1 21 1 5 1 7 1 7 1 8 1 9 1-4 1-3 1 10 1-3 1 11 1 0 1 3 1 2 1-5 1 6 1-1 1 8 1-5 1 3 1-1 1-6 1 7 1 0 1 0 1 6 1-1 1-6 1 1 1 2 1 3 1 0 1 3 1-11 1 9 1-7 1 6 1 7 1-10 1 15 1-5 1 0 1 2 1-7 1 1 1-7 1 8 1-1 1 0 1 4 1-1 1 5 1-12 1 10 1-6 1 4 1-6 1-2 1 8 1-10 1 4 1 4 1-1 1-3 1-6 1 11 1 5 1-4 1-4 1 3 1 2 1 1 1-10 1 3 1-1 1 3 1-2 1 15 1-18 1 1 1-9 1 10 1-11 1 7 1 5 1 0 1-1 1-10 1 0 1 2 1-6 1 2 1-3 1-4 1 0 1-12 1-9 1-12 1-7 1-13 1-22 1-4 1-11 1-3 1-5 1 5 1 12 1 11 1 3 1-3 1 13 1 1 1-3 1 3 1 10 1 7 1 0 1 13 1 10 1 5 1 11 1 5 1-6 1 9 1 7 1-7 1 6 1-2 1 7 1-3 1 1 1 7 1-5 1-2 1 8 1 0 1 3 1-4 1 1 1 0 1 2 1-12 1 8 1 6 1-7 1 10 1-10 1-2 1 15 1-11 1 6 1-2 1-5 1 8 1-13 1 12 1-9 1 1 1 4 1 2 1-2 1 0 1-1 1 12 1-9 1 0 1-8 1 10 1-3 1 10 1-3 1-2 1-3 1 7 1-9 1 4 1 8 1-14 1 4 1-3 1 9 1-3 1-7 1 9 1 7 1-10 1 3 1 3 1-3 1-7 1 6 1-7 1 6 1-3 1 5 1 1 1 5 1-9 1 0 1 3 1-4 1 2 1 0 1 2 1 1 1 3 1 1 1-2 1-7 1-1 1 2 1 14 1-7 1 2 1-2 1-6 1 2 1 4 1-2 1 5 1-8 1 2 1-4 1 6 1 0 1-3 1 3 1 3 1-4 1 11 1-9 1 7 1-7 1-6 1 6 1-3 1 3 1-5 1-3 1 7 1-2 1 3 1-3 1 6 1-12 1-1 1 6 1 2 1 4 1 4 1-6 1 7 1-5 1 1 1 0 1 4 1-8 1 6 1 1 1-5 1 4 1-2 1-4 1-1 1-1 1-2 1 4 1 4 1-1 1-3 1 4 1-6 1 11 1 1 1-5 1 2 1-3 1-7 1 4 1 3 1-1 1 6 1-9 1 4 1 1 1-1 1-1 1 3 1 4 1-6 1 7 1 0 1-8 1 1 1-1 1 2 1 1 1 9 1-15 1 10 1-5 1 3 1 1 1 5 1-9 1 3 1-3 1 4 1 8 1-9 1-3 1 2 1 0 1-5 1 14 1-8 1-4 1 7 1 3 1-3 1-1 1-2 1-1 1 1 1 1" fill="none" stroke="#0000ff" stroke-width="3.0" stroke-linejoin="miter" vector-effect="non-scaling-stroke"/>
<path transform="translate(772.800,0) scale(0.56000,0.1)" d="M0,7830l1 42 1 33 1 27 1 24 1 8 1 22 1 10 1 11 1 4 1-2 1 14 1 2 1 3 1 6 1 1 1 3 1 8 1-14 1 7 1-2 1 10 1-15 1 5 1 8 1 5 1-7 1-3 1 0 1-2 1 5 1-4 1-2 1-6 1 8 1-2 1 2 1-4 1-5 1-6 1 9 1-2 1-10 1 0 1-9 1 0 1-8 1-8 1-9 1-17 1-12 1-26 1-20 1-26 1-32 1-47 1-33 1-38 1-27 1-24 1 6 1 23 1 18 1 26 1 16 1 15 1 7 1 11 1 8 1 10 1 14 1 30 1 12 1 28 1 31 1 16 1 8 1 12 1 21 1 8 1 6 1 11 1 2 1 5 1 6 1-5 1 8 1-6 1 14 1 4 1 0 1-12 1 13 1-11 1 16 1-13 1 9 1 2 1-10 1 9 1 6 1 1 1-2 1-2 1 6 1-4 1 0 1 5 1-16 1 12 1 14 1-18 1 2 1-1 1 0 1 7 1-2 1-1 1-1 1 5 1-3 1 10 1-10 1-3 1 1 1-4 1 10 1-5 1-4 1 7 1-1 1 0 1-7 1 7 1 3 1-11 1 13 1 5 1-8 1-4 1 5 1-3 1-5 1 1 1 6 1-16 1 9 1 2 1-5 1 14 1-5 1-4 1-7 1 6 1 2 1-6 1 2 1 10 1-15 1-6 1-1 1 5 1-13 1 6 1-5 1-3 1-10 1-4 1-10 1-16 1-18 1-7 1-23 1-31 1-25 1-29 1-48 1-27 1-31 1-2 1-5 1 20 1 17 1 23 1 8 1 19 1 15 1 3 1 3 1 4 1 8 1 21 1 25 1 14 1 26 1 21 1 11 1 17 1 13 1 6 1 5 1 4 1 3 1 4 1 6 1-2 1 14 1-8 1 1 1 3 1 0 1 9 1-6 1 6 1 7 1-3 1-5 1 0 1 0 1 1 1 6 1 2 1-3 1 2 1 0 1 1 1 3 1 1 1-5 1-4 1 6 1-2 1-7 1 7 1-1 1-4 1 12 1-12 1 5 1 5 1-11 1 10 1 0 1-1 1-2 1 9 1-5 1-2 1 2 1-3 1 1 1-2 1 6 1-4 1-1 1 7 1-12 1 2 1 9 1 4 1-5 1-1 1 1 1 1 1-5 1-9 1 9 1-1 1 10 1-10 1-3 1 10 1 4 1-7 1-1 1 8 1-5 1-4 1 4 1 0 1 0 1 5 1-12 1 1 1 1 1 8 1-8 1 9 1-5 1 4 1 0 1-3 1-4 1 6 1 1 1-2 1 7 1-7 1 1 1 0 1-6 1-1 1 10 1-3 1 5 1 1 1 0 1-12 1 12 1-8 1 7 1-5 1 10 1-16 1 1 1 7 1 0 1 3 1-1 1-7 1 7 1 2 1-5 1-2 1 8 1-5 1 7 1-11 1 3 1 7 1-10 1 9 1-5 1 2 1 1 1 6 1-10 1-1 1 1 1 0 1 1 1-3 1 4 1 4 1-7 1-1 1 7 1-9 1 17 1-10 1 1 1-4 1 3 1-3 1 7 1 1 1-6 1-7 1 9 1-6 1 3 1 5 1-8 1 3 1 0 1 4 1-2 1 2 1 12 1-13 1-2 1 6 1-2 1-4 1 0 1 12 1-10 1-4 1 4 1 1 1 3 1 2 1-15 1 10 1 0 1 1 1-7 1 8 1 4 1-15 1 12 1-9 1 10 1-8 1 2 1 3 1 2 1-1 1 2 1-1 1 0" fill="none" stroke="#ff0000" stroke-width="3.0" stroke-linejoin="miter" vector-effect="non-scaling-stroke"/>
<path transform="translate(772.800,0) scale(0.56000,0.1)" d="M0,8843l1 6 1 12 1-3 1 10 1-3 1 14 1-1 1-4 1 10 1 4 1 0 1-10 1 3 1-1 1 10 1-6 1-2 1 8 1 0 1 1 1-7 1 7 1-4 1-8 1 14 1-6 1-2 1-2 1 3 1 0 1-9 1 6 1-10 1 1 1-3 1-6 1 2 1 4 1-2 1-16 1-4 1-8 1-9 1-10 1-16 1-19 1-21 1-33 1-42 1-35 1-46 1-61 1-45 1-24 1-23 1-5 1 29 1 28 1 24 1 23 1 21 1 18 1 0 1 9 1 13 1 17 1 38 1 28 1 21 1 41 1 20 1 17 1 15 1 16 1 12 1 13 1 2 1 7 1 5 1 9 1-4 1 9 1 2 1 4 1 2 1 3 1 2 1 3 1 1 1 0 1 5 1-4 1 7 1-5 1-1 1 3 1-6 1 6 1 1 1 2 1-4 1 7 1-6 1-1 1 10 1-1 1-10 1 4 1 7 1-1 1 1 1-7 1 10 1-7 1 1 1 3 1 3 1-14 1 9 1-5 1 3 1 1 1 0 1 12 1-12 1-2 1-3 1 11 1-6 1 8 1-15 1 21 1-13 1-2 1 9 1-6 1-4 1 8 1-9 1 9 1 7 1-9 1 10 1-7 1 4 1 2 1-4 1 1 1-2 1 2 1-3 1-1 1-2 1 3 1-7 1 6 1-9 1 9 1 1 1 2 1-2 1-6 1 9 1 1 1-5 1 5 1-7 1 8 1 1 1-9 1 10 1-1 1-6 1 1 1-2 1 4 1-9 1 10 1 5 1-7 1 3 1-4 1 4 1-1 1 3 1-3 1-13 1 23 1-10 1-10 1 13 1 1 1-7 1-3 1 3 1 7 1-13 1 6 1-3 1 5 1-11 1 10 1 5 1-7 1 4 1 3 1 0 1-6 1 2 1 8 1-2 1-7 1 3 1-6 1 4 1 4 1-9 1 1 1 4 1 3 1-4 1 2 1-8 1 22 1-11 1-4 1 2 1 4 1-9 1 4 1 3 1-11 1 4 1 6 1-2 1 6 1 2 1-5 1-4 1-7 1 13 1 1 1-8 1 0 1 3 1 8 1-9 1-1 1 8 1-5 1-3 1-1 1-1 1-3 1 13 1-8 1 0 1-1 1 1 1 4 1-2 1-4 1 3 1 7 1-5 1-5 1 6 1 2 1 1 1-10 1 10 1-1 1-3 1 1 1 2 1-5 1 0 1 6 1-5 1 11 1-8 1-8 1-7 1 14 1 2 1-9 1 0 1-1 1 3 1 7 1-4 1 2 1 4 1-2 1 2 1-6 1 0 1 6 1 0 1 2 1-3 1 0 1-3 1-4 1 9 1-7 1 4 1 2 1-9 1 3 1 5 1 3 1-7 1 5 1-5 1 2 1 7 1-6 1-1 1 7 1-5 1-8 1 5 1 7 1-5 1-4 1 6 1 1 1-2 1 7 1-2 1-13 1 9 1-1 1-1 1 3 1-1 1-7 1 9 1-8 1 9 1-7 1 3 1 0 1 1 1-1 1-1 1 4 1 0 1-3 1 1 1-4 1-4 1 6 1 6 1-1 1-3 1-4 1 2 1 3 1-1 1-5 1 18 1-15 1 8 1 3 1-6 1 0 1 1 1-6 1 11 1-7 1 6 1 1 1-10 1-6 1 12 1-6 1 4 1-3 1 3 1-4 1-1 1 4 1 4 1 3 1-7 1 3 1-7 1 4 1-7 1 12 1-9 1 3 1 5 1 4 1-4 1 10 1-14 1 6" fill="none" stroke="#000000" stroke-width="3.0" stroke-linejoin="miter" vector-effect="non-scaling-stroke"/>
</g>
<rect x="249.5" y="29" width="35.4" height="876.3" fill="none" stroke="#ff0000" stroke-width="3" stroke-dasharray="4 1.25"/>
<g stroke="#000" stroke-width="1.8" stroke-linecap="round"><path d="M258.0,768.8L270.0,768.8M264.0,762.8L264.0,774.8M258.3,763.1L269.7,774.5M258.3,774.5L269.7,763.1" fill="none"/>
<path d="M315.3,776.4L327.3,776.4M321.3,770.4L321.3,782.4M315.6,770.7L327.0,782.1M315.6,782.1L327.0,770.7" fill="none"/>
<path d="M502.3,779.2L514.3,779.2M508.3,773.2L508.3,785.2M502.6,773.5L514.0,784.9M502.6,784.9L514.0,773.5" fill="none"/>
<path d="M624.3,781.0L636.3,781.0M630.3,775.0L630.3,787.0M624.6,775.3L636.0,786.7M624.6,786.7L636.0,775.3" fill="none"/>
<path d="M663.4,783.4L675.4,783.4M669.4,777.4L669.4,789.4M663.7,777.7L675.1,789.1M663.7,789.1L675.1,777.7" fill="none"/>
<path d="M866.9,764.8L878.9,764.8M872.9,758.8L872.9,770.8M867.2,759.1L878.6,770.5M867.2,770.5L878.6,759.1" fill="none"/></g>
<g stroke="#000" stroke-width="3.7">
<line x1="89.2" y1="947" x2="89.2" y2="967.6" />
<line x1="133.4" y1="947" x2="133.4" y2="958.6" />
<line x1="177.6" y1="947" x2="177.6" y2="967.6" />
<line x1="221.7" y1="947" x2="221.7" y2="958.6" />
<line x1="265.9" y1="947" x2="265.9" y2="967.6" />
<line x1="310.1" y1="947" x2="310.1" y2="958.6" />
<line x1="354.3" y1="947" x2="354.3" y2="967.6" />
<line x1="398.5" y1="947" x2="398.5" y2="958.6" />
<line x1="442.6" y1="947" x2="442.6" y2="967.6" />
<line x1="486.8" y1="947" x2="486.8" y2="958.6" />
<line x1="531.0" y1="947" x2="531.0" y2="967.6" />
<line x1="575.2" y1="947" x2="575.2" y2="958.6" />
<line x1="619.4" y1="947" x2="619.4" y2="967.6" />
<line x1="663.5" y1="947" x2="663.5" y2="958.6" />
<line x1="707.7" y1="947" x2="707.7" y2="967.6" />
<line x1="772.8" y1="949" x2="772.8" y2="969.3" />
<line x1="884.8" y1="949" x2="884.8" y2="969.3" />
<line x1="996.8" y1="949" x2="996.8" y2="969.3" />
</g>
<g fill="#000">
<text x="89.2" y="1008.4" text-anchor="middle" letter-spacing="-3">20</text>
<text x="177.6" y="1008.4" text-anchor="middle" letter-spacing="-3">30</text>
<text x="265.9" y="1008.4" text-anchor="middle" letter-spacing="-3">40</text>
<text x="354.3" y="1008.4" text-anchor="middle" letter-spacing="-3">50</text>
<text x="442.6" y="1008.4" text-anchor="middle" letter-spacing="-3">60</text>
<text x="531.0" y="1008.4" text-anchor="middle" letter-spacing="-3">70</text>
<text x="619.4" y="1008.4" text-anchor="middle" letter-spacing="-3">80</text>
<text x="707.7" y="1008.4" text-anchor="middle" letter-spacing="-3">90</text>
<text x="773.2" y="1010.1" text-anchor="middle" letter-spacing="-3">38</text>
<text x="885.2" y="1010.1" text-anchor="middle" letter-spacing="-3">40</text>
<text x="997.2" y="1010.1" text-anchor="middle" letter-spacing="-3">42</text>
<text x="267.6" y="1052.7" letter-spacing="-2.3">2 Theta / degree</text>
<text transform="translate(36.6,607.5) rotate(-90)" font-size="45" letter-spacing="-1.6">Intensity / a.u.</text>
<text x="504" y="67.6" font-size="36.7" letter-spacing="-2.0">Pt/La<tspan font-size="22" dy="12">2</tspan><tspan dy="-12">O</tspan><tspan font-size="22" dy="12">3</tspan><tspan dy="-12">/TiO</tspan><tspan font-size="22" dy="12">2</tspan></text>
<text x="515" y="172.3" font-size="36.7" letter-spacing="-2.0">Pt/BaO/TiO<tspan font-size="22" dy="12">2</tspan></text>
<text x="512" y="271.5" font-size="36.7" letter-spacing="-2.0">Pt/ZnO/TiO<tspan font-size="22" dy="12">2</tspan></text>
<text x="512" y="379.8" font-size="36.7" letter-spacing="-2.0">Pt/CuO<tspan font-size="22" dy="12">x</tspan><tspan dy="-12">/TiO</tspan><tspan font-size="22" dy="12">2</tspan></text>
<text x="510" y="485.1" font-size="36.7" letter-spacing="-2.0">Pt/CoO<tspan font-size="22" dy="12">x</tspan><tspan dy="-12">/TiO</tspan><tspan font-size="22" dy="12">2</tspan></text>
<text x="511" y="574.5" font-size="36.7" letter-spacing="-2.0">Pt/FeO<tspan font-size="22" dy="12">x</tspan><tspan dy="-12">/TiO</tspan><tspan font-size="22" dy="12">2</tspan></text>
<text x="514" y="667.3" font-size="36.7" letter-spacing="-2.0">Pt/Al<tspan font-size="22" dy="12">2</tspan><tspan dy="-12">O</tspan><tspan font-size="22" dy="12">3</tspan><tspan dy="-12">/TiO</tspan><tspan font-size="22" dy="12">2</tspan></text>
<text x="575" y="758.3" font-size="36.7" letter-spacing="-2.0">Pt/TiO<tspan font-size="22" dy="12">2</tspan></text>
<text x="604" y="849.4" font-size="36.7" letter-spacing="-2.0">TiO<tspan font-size="22" dy="12">2</tspan></text>
</g>
</svg>
</body></html>
